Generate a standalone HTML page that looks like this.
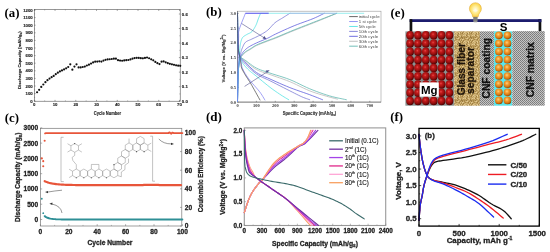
<!DOCTYPE html>
<html><head><meta charset="utf-8"><style>
html,body{margin:0;padding:0;background:#fff;width:550px;height:252px;overflow:hidden;font-family:"Liberation Sans",sans-serif;}
svg{display:block;will-change:transform;}
</style></head><body>
<svg width="550" height="252" viewBox="0 0 550 252">
<defs>
<radialGradient id="rb" cx="0.42" cy="0.38" r="0.62">
<stop offset="0" stop-color="#ea4a4a"/><stop offset="0.25" stop-color="#c41c1c"/><stop offset="0.6" stop-color="#9e1010"/><stop offset="0.85" stop-color="#740808"/><stop offset="1" stop-color="#4a0000"/>
</radialGradient>
<radialGradient id="ob" cx="0.42" cy="0.38" r="0.62">
<stop offset="0" stop-color="#ffd080"/><stop offset="0.35" stop-color="#f4a030"/><stop offset="0.8" stop-color="#d07010"/><stop offset="1" stop-color="#8a4400"/>
</radialGradient>
<radialGradient id="bulb" cx="0.5" cy="0.5" r="0.6">
<stop offset="0" stop-color="#fffcea"/><stop offset="0.4" stop-color="#ffee98"/><stop offset="0.8" stop-color="#fcd44c"/><stop offset="1" stop-color="#eeac28"/>
</radialGradient>
<pattern id="hatch" width="2" height="2" patternUnits="userSpaceOnUse">
<rect width="2" height="2" fill="#c4c4c4"/><rect width="1" height="1" fill="#7a7a7a"/><rect x="1" y="1" width="1" height="1" fill="#848484"/>
</pattern>
<pattern id="sand" width="9" height="9" patternUnits="userSpaceOnUse"><rect width="9" height="9" fill="#c6a768"/><rect x="0" y="0" width="1" height="1" fill="#c0a062"/><rect x="1" y="0" width="1" height="1" fill="#d8bc80"/><rect x="2" y="0" width="1" height="1" fill="#9c7c40"/><rect x="3" y="0" width="1" height="1" fill="#c9aa6c"/><rect x="4" y="0" width="1" height="1" fill="#b89858"/><rect x="5" y="0" width="1" height="1" fill="#b89858"/><rect x="6" y="0" width="1" height="1" fill="#c0a062"/><rect x="7" y="0" width="1" height="1" fill="#c9aa6c"/><rect x="8" y="0" width="1" height="1" fill="#a88848"/><rect x="0" y="1" width="1" height="1" fill="#c9aa6c"/><rect x="1" y="1" width="1" height="1" fill="#b89858"/><rect x="2" y="1" width="1" height="1" fill="#9c7c40"/><rect x="3" y="1" width="1" height="1" fill="#9c7c40"/><rect x="4" y="1" width="1" height="1" fill="#b89858"/><rect x="5" y="1" width="1" height="1" fill="#a88848"/><rect x="6" y="1" width="1" height="1" fill="#b89858"/><rect x="7" y="1" width="1" height="1" fill="#9c7c40"/><rect x="8" y="1" width="1" height="1" fill="#c9aa6c"/><rect x="0" y="2" width="1" height="1" fill="#b89858"/><rect x="1" y="2" width="1" height="1" fill="#a88848"/><rect x="2" y="2" width="1" height="1" fill="#c9aa6c"/><rect x="3" y="2" width="1" height="1" fill="#9c7c40"/><rect x="4" y="2" width="1" height="1" fill="#c9aa6c"/><rect x="5" y="2" width="1" height="1" fill="#a88848"/><rect x="6" y="2" width="1" height="1" fill="#c9aa6c"/><rect x="7" y="2" width="1" height="1" fill="#d8bc80"/><rect x="8" y="2" width="1" height="1" fill="#e2c992"/><rect x="0" y="3" width="1" height="1" fill="#9c7c40"/><rect x="1" y="3" width="1" height="1" fill="#d8bc80"/><rect x="2" y="3" width="1" height="1" fill="#b89858"/><rect x="3" y="3" width="1" height="1" fill="#e2c992"/><rect x="4" y="3" width="1" height="1" fill="#d8bc80"/><rect x="5" y="3" width="1" height="1" fill="#b89858"/><rect x="6" y="3" width="1" height="1" fill="#a88848"/><rect x="7" y="3" width="1" height="1" fill="#c0a062"/><rect x="8" y="3" width="1" height="1" fill="#b89858"/><rect x="0" y="4" width="1" height="1" fill="#b89858"/><rect x="1" y="4" width="1" height="1" fill="#c9aa6c"/><rect x="2" y="4" width="1" height="1" fill="#a88848"/><rect x="3" y="4" width="1" height="1" fill="#d0b478"/><rect x="4" y="4" width="1" height="1" fill="#9c7c40"/><rect x="5" y="4" width="1" height="1" fill="#c0a062"/><rect x="6" y="4" width="1" height="1" fill="#d0b478"/><rect x="7" y="4" width="1" height="1" fill="#d0b478"/><rect x="8" y="4" width="1" height="1" fill="#c0a062"/><rect x="0" y="5" width="1" height="1" fill="#e2c992"/><rect x="1" y="5" width="1" height="1" fill="#a88848"/><rect x="2" y="5" width="1" height="1" fill="#d8bc80"/><rect x="3" y="5" width="1" height="1" fill="#a88848"/><rect x="4" y="5" width="1" height="1" fill="#b89858"/><rect x="5" y="5" width="1" height="1" fill="#e2c992"/><rect x="6" y="5" width="1" height="1" fill="#d0b478"/><rect x="7" y="5" width="1" height="1" fill="#c0a062"/><rect x="8" y="5" width="1" height="1" fill="#d0b478"/><rect x="0" y="6" width="1" height="1" fill="#e2c992"/><rect x="1" y="6" width="1" height="1" fill="#b89858"/><rect x="2" y="6" width="1" height="1" fill="#b89858"/><rect x="3" y="6" width="1" height="1" fill="#9c7c40"/><rect x="4" y="6" width="1" height="1" fill="#d8bc80"/><rect x="5" y="6" width="1" height="1" fill="#c0a062"/><rect x="6" y="6" width="1" height="1" fill="#d8bc80"/><rect x="7" y="6" width="1" height="1" fill="#d0b478"/><rect x="8" y="6" width="1" height="1" fill="#9c7c40"/><rect x="0" y="7" width="1" height="1" fill="#c9aa6c"/><rect x="1" y="7" width="1" height="1" fill="#b89858"/><rect x="2" y="7" width="1" height="1" fill="#c0a062"/><rect x="3" y="7" width="1" height="1" fill="#c0a062"/><rect x="4" y="7" width="1" height="1" fill="#c0a062"/><rect x="5" y="7" width="1" height="1" fill="#d0b478"/><rect x="6" y="7" width="1" height="1" fill="#d0b478"/><rect x="7" y="7" width="1" height="1" fill="#b89858"/><rect x="8" y="7" width="1" height="1" fill="#b89858"/><rect x="0" y="8" width="1" height="1" fill="#e2c992"/><rect x="1" y="8" width="1" height="1" fill="#d0b478"/><rect x="2" y="8" width="1" height="1" fill="#b89858"/><rect x="3" y="8" width="1" height="1" fill="#c9aa6c"/><rect x="4" y="8" width="1" height="1" fill="#e2c992"/><rect x="5" y="8" width="1" height="1" fill="#d0b478"/><rect x="6" y="8" width="1" height="1" fill="#e2c992"/><rect x="7" y="8" width="1" height="1" fill="#9c7c40"/><rect x="8" y="8" width="1" height="1" fill="#c0a062"/></pattern>
</defs>
<rect width="550" height="252" fill="#fff"/>
<text x="4.6" y="17.4" font-size="12.8" text-anchor="start" font-weight="bold" font-family="Liberation Serif" fill="#000">(a)</text>
<rect x="34.3" y="9.6" width="145.9" height="91.6" fill="none" stroke="#444" stroke-width="0.55"/>
<line x1="34.3" y1="101.2" x2="35.6" y2="101.2" stroke="#444" stroke-width="0.5"/>
<text x="32.7" y="102.7" font-size="4.3" text-anchor="end" font-weight="bold" font-family="Liberation Sans" fill="#222" stroke="#222" stroke-width="0.12">0</text>
<line x1="34.3" y1="97.4" x2="35.1" y2="97.4" stroke="#444" stroke-width="0.4"/>
<line x1="34.3" y1="93.6" x2="35.6" y2="93.6" stroke="#444" stroke-width="0.5"/>
<text x="32.7" y="95.1" font-size="4.3" text-anchor="end" font-weight="bold" font-family="Liberation Sans" fill="#222" stroke="#222" stroke-width="0.12">100</text>
<line x1="34.3" y1="89.8" x2="35.1" y2="89.8" stroke="#444" stroke-width="0.4"/>
<line x1="34.3" y1="86" x2="35.6" y2="86" stroke="#444" stroke-width="0.5"/>
<text x="32.7" y="87.5" font-size="4.3" text-anchor="end" font-weight="bold" font-family="Liberation Sans" fill="#222" stroke="#222" stroke-width="0.12">200</text>
<line x1="34.3" y1="82.2" x2="35.1" y2="82.2" stroke="#444" stroke-width="0.4"/>
<line x1="34.3" y1="78.4" x2="35.6" y2="78.4" stroke="#444" stroke-width="0.5"/>
<text x="32.7" y="79.9" font-size="4.3" text-anchor="end" font-weight="bold" font-family="Liberation Sans" fill="#222" stroke="#222" stroke-width="0.12">300</text>
<line x1="34.3" y1="74.6" x2="35.1" y2="74.6" stroke="#444" stroke-width="0.4"/>
<line x1="34.3" y1="70.8" x2="35.6" y2="70.8" stroke="#444" stroke-width="0.5"/>
<text x="32.7" y="72.3" font-size="4.3" text-anchor="end" font-weight="bold" font-family="Liberation Sans" fill="#222" stroke="#222" stroke-width="0.12">400</text>
<line x1="34.3" y1="67" x2="35.1" y2="67" stroke="#444" stroke-width="0.4"/>
<line x1="34.3" y1="63.2" x2="35.6" y2="63.2" stroke="#444" stroke-width="0.5"/>
<text x="32.7" y="64.7" font-size="4.3" text-anchor="end" font-weight="bold" font-family="Liberation Sans" fill="#222" stroke="#222" stroke-width="0.12">500</text>
<line x1="34.3" y1="59.4" x2="35.1" y2="59.4" stroke="#444" stroke-width="0.4"/>
<line x1="34.3" y1="55.6" x2="35.6" y2="55.6" stroke="#444" stroke-width="0.5"/>
<text x="32.7" y="57.1" font-size="4.3" text-anchor="end" font-weight="bold" font-family="Liberation Sans" fill="#222" stroke="#222" stroke-width="0.12">600</text>
<line x1="34.3" y1="51.8" x2="35.1" y2="51.8" stroke="#444" stroke-width="0.4"/>
<line x1="34.3" y1="48" x2="35.6" y2="48" stroke="#444" stroke-width="0.5"/>
<text x="32.7" y="49.5" font-size="4.3" text-anchor="end" font-weight="bold" font-family="Liberation Sans" fill="#222" stroke="#222" stroke-width="0.12">700</text>
<line x1="34.3" y1="44.2" x2="35.1" y2="44.2" stroke="#444" stroke-width="0.4"/>
<line x1="34.3" y1="40.4" x2="35.6" y2="40.4" stroke="#444" stroke-width="0.5"/>
<text x="32.7" y="41.9" font-size="4.3" text-anchor="end" font-weight="bold" font-family="Liberation Sans" fill="#222" stroke="#222" stroke-width="0.12">800</text>
<line x1="34.3" y1="36.6" x2="35.1" y2="36.6" stroke="#444" stroke-width="0.4"/>
<line x1="34.3" y1="32.8" x2="35.6" y2="32.8" stroke="#444" stroke-width="0.5"/>
<text x="32.7" y="34.3" font-size="4.3" text-anchor="end" font-weight="bold" font-family="Liberation Sans" fill="#222" stroke="#222" stroke-width="0.12">900</text>
<line x1="34.3" y1="29" x2="35.1" y2="29" stroke="#444" stroke-width="0.4"/>
<line x1="34.3" y1="25.2" x2="35.6" y2="25.2" stroke="#444" stroke-width="0.5"/>
<text x="32.7" y="26.7" font-size="4.3" text-anchor="end" font-weight="bold" font-family="Liberation Sans" fill="#222" stroke="#222" stroke-width="0.12">1000</text>
<line x1="34.3" y1="21.4" x2="35.1" y2="21.4" stroke="#444" stroke-width="0.4"/>
<line x1="34.3" y1="17.6" x2="35.6" y2="17.6" stroke="#444" stroke-width="0.5"/>
<text x="32.7" y="19.1" font-size="4.3" text-anchor="end" font-weight="bold" font-family="Liberation Sans" fill="#222" stroke="#222" stroke-width="0.12">1100</text>
<line x1="34.3" y1="13.8" x2="35.1" y2="13.8" stroke="#444" stroke-width="0.4"/>
<line x1="34.3" y1="10" x2="35.6" y2="10" stroke="#444" stroke-width="0.5"/>
<text x="32.7" y="11.5" font-size="4.3" text-anchor="end" font-weight="bold" font-family="Liberation Sans" fill="#222" stroke="#222" stroke-width="0.12">1200</text>
<line x1="180.2" y1="101.2" x2="178.9" y2="101.2" stroke="#444" stroke-width="0.5"/>
<text x="181.8" y="102.7" font-size="4.3" text-anchor="start" font-weight="bold" font-family="Liberation Sans" fill="#222" stroke="#222" stroke-width="0.12">0.0</text>
<line x1="180.2" y1="93.93" x2="179.4" y2="93.93" stroke="#444" stroke-width="0.4"/>
<line x1="180.2" y1="86.67" x2="178.9" y2="86.67" stroke="#444" stroke-width="0.5"/>
<text x="181.8" y="88.17" font-size="4.3" text-anchor="start" font-weight="bold" font-family="Liberation Sans" fill="#222" stroke="#222" stroke-width="0.12">0.1</text>
<line x1="180.2" y1="79.4" x2="179.4" y2="79.4" stroke="#444" stroke-width="0.4"/>
<line x1="180.2" y1="72.13" x2="178.9" y2="72.13" stroke="#444" stroke-width="0.5"/>
<text x="181.8" y="73.63" font-size="4.3" text-anchor="start" font-weight="bold" font-family="Liberation Sans" fill="#222" stroke="#222" stroke-width="0.12">0.2</text>
<line x1="180.2" y1="64.87" x2="179.4" y2="64.87" stroke="#444" stroke-width="0.4"/>
<line x1="180.2" y1="57.6" x2="178.9" y2="57.6" stroke="#444" stroke-width="0.5"/>
<text x="181.8" y="59.1" font-size="4.3" text-anchor="start" font-weight="bold" font-family="Liberation Sans" fill="#222" stroke="#222" stroke-width="0.12">0.3</text>
<line x1="180.2" y1="50.33" x2="179.4" y2="50.33" stroke="#444" stroke-width="0.4"/>
<line x1="180.2" y1="43.07" x2="178.9" y2="43.07" stroke="#444" stroke-width="0.5"/>
<text x="181.8" y="44.57" font-size="4.3" text-anchor="start" font-weight="bold" font-family="Liberation Sans" fill="#222" stroke="#222" stroke-width="0.12">0.4</text>
<line x1="180.2" y1="35.8" x2="179.4" y2="35.8" stroke="#444" stroke-width="0.4"/>
<line x1="180.2" y1="28.53" x2="178.9" y2="28.53" stroke="#444" stroke-width="0.5"/>
<text x="181.8" y="30.03" font-size="4.3" text-anchor="start" font-weight="bold" font-family="Liberation Sans" fill="#222" stroke="#222" stroke-width="0.12">0.5</text>
<line x1="180.2" y1="21.27" x2="179.4" y2="21.27" stroke="#444" stroke-width="0.4"/>
<line x1="180.2" y1="14" x2="178.9" y2="14" stroke="#444" stroke-width="0.5"/>
<text x="181.8" y="15.5" font-size="4.3" text-anchor="start" font-weight="bold" font-family="Liberation Sans" fill="#222" stroke="#222" stroke-width="0.12">0.6</text>
<line x1="34.3" y1="101.2" x2="34.3" y2="99.9" stroke="#444" stroke-width="0.5"/>
<line x1="34.3" y1="9.6" x2="34.3" y2="10.9" stroke="#444" stroke-width="0.5"/>
<text x="34.3" y="105.8" font-size="4.3" text-anchor="middle" font-weight="bold" font-family="Liberation Sans" fill="#222" stroke="#222" stroke-width="0.12">0</text>
<line x1="44.67" y1="101.2" x2="44.67" y2="100.4" stroke="#444" stroke-width="0.4"/>
<line x1="44.67" y1="9.6" x2="44.67" y2="10.4" stroke="#444" stroke-width="0.4"/>
<line x1="55.04" y1="101.2" x2="55.04" y2="99.9" stroke="#444" stroke-width="0.5"/>
<line x1="55.04" y1="9.6" x2="55.04" y2="10.9" stroke="#444" stroke-width="0.5"/>
<text x="55.04" y="105.8" font-size="4.3" text-anchor="middle" font-weight="bold" font-family="Liberation Sans" fill="#222" stroke="#222" stroke-width="0.12">10</text>
<line x1="65.41" y1="101.2" x2="65.41" y2="100.4" stroke="#444" stroke-width="0.4"/>
<line x1="65.41" y1="9.6" x2="65.41" y2="10.4" stroke="#444" stroke-width="0.4"/>
<line x1="75.79" y1="101.2" x2="75.79" y2="99.9" stroke="#444" stroke-width="0.5"/>
<line x1="75.79" y1="9.6" x2="75.79" y2="10.9" stroke="#444" stroke-width="0.5"/>
<text x="75.79" y="105.8" font-size="4.3" text-anchor="middle" font-weight="bold" font-family="Liberation Sans" fill="#222" stroke="#222" stroke-width="0.12">20</text>
<line x1="86.16" y1="101.2" x2="86.16" y2="100.4" stroke="#444" stroke-width="0.4"/>
<line x1="86.16" y1="9.6" x2="86.16" y2="10.4" stroke="#444" stroke-width="0.4"/>
<line x1="96.53" y1="101.2" x2="96.53" y2="99.9" stroke="#444" stroke-width="0.5"/>
<line x1="96.53" y1="9.6" x2="96.53" y2="10.9" stroke="#444" stroke-width="0.5"/>
<text x="96.53" y="105.8" font-size="4.3" text-anchor="middle" font-weight="bold" font-family="Liberation Sans" fill="#222" stroke="#222" stroke-width="0.12">30</text>
<line x1="106.9" y1="101.2" x2="106.9" y2="100.4" stroke="#444" stroke-width="0.4"/>
<line x1="106.9" y1="9.6" x2="106.9" y2="10.4" stroke="#444" stroke-width="0.4"/>
<line x1="117.27" y1="101.2" x2="117.27" y2="99.9" stroke="#444" stroke-width="0.5"/>
<line x1="117.27" y1="9.6" x2="117.27" y2="10.9" stroke="#444" stroke-width="0.5"/>
<text x="117.27" y="105.8" font-size="4.3" text-anchor="middle" font-weight="bold" font-family="Liberation Sans" fill="#222" stroke="#222" stroke-width="0.12">40</text>
<line x1="127.64" y1="101.2" x2="127.64" y2="100.4" stroke="#444" stroke-width="0.4"/>
<line x1="127.64" y1="9.6" x2="127.64" y2="10.4" stroke="#444" stroke-width="0.4"/>
<line x1="138.01" y1="101.2" x2="138.01" y2="99.9" stroke="#444" stroke-width="0.5"/>
<line x1="138.01" y1="9.6" x2="138.01" y2="10.9" stroke="#444" stroke-width="0.5"/>
<text x="138.01" y="105.8" font-size="4.3" text-anchor="middle" font-weight="bold" font-family="Liberation Sans" fill="#222" stroke="#222" stroke-width="0.12">50</text>
<line x1="148.39" y1="101.2" x2="148.39" y2="100.4" stroke="#444" stroke-width="0.4"/>
<line x1="148.39" y1="9.6" x2="148.39" y2="10.4" stroke="#444" stroke-width="0.4"/>
<line x1="158.76" y1="101.2" x2="158.76" y2="99.9" stroke="#444" stroke-width="0.5"/>
<line x1="158.76" y1="9.6" x2="158.76" y2="10.9" stroke="#444" stroke-width="0.5"/>
<text x="158.76" y="105.8" font-size="4.3" text-anchor="middle" font-weight="bold" font-family="Liberation Sans" fill="#222" stroke="#222" stroke-width="0.12">60</text>
<line x1="169.13" y1="101.2" x2="169.13" y2="100.4" stroke="#444" stroke-width="0.4"/>
<line x1="169.13" y1="9.6" x2="169.13" y2="10.4" stroke="#444" stroke-width="0.4"/>
<line x1="179.5" y1="101.2" x2="179.5" y2="99.9" stroke="#444" stroke-width="0.5"/>
<line x1="179.5" y1="9.6" x2="179.5" y2="10.9" stroke="#444" stroke-width="0.5"/>
<text x="179.5" y="105.8" font-size="4.3" text-anchor="middle" font-weight="bold" font-family="Liberation Sans" fill="#222" stroke="#222" stroke-width="0.12">70</text>
<text x="107.5" y="114.9" font-size="4.9" text-anchor="middle" font-weight="bold" font-family="Liberation Sans" fill="#222" stroke="#222" stroke-width="0.12" textLength="27.4" lengthAdjust="spacingAndGlyphs">Cycle Number</text>
<text transform="translate(20.5,60.2) rotate(-90)" font-size="4.2" text-anchor="middle" font-weight="bold" font-family="Liberation Sans" fill="#222" stroke="#222" stroke-width="0.15">Discharge Capacity (mAh/g<tspan font-size="3.0" dy="1">s</tspan><tspan dy="-1">)</tspan></text>
<circle cx="37.1" cy="92.23" r="1.1" fill="#111"/>
<circle cx="39.17" cy="89.8" r="1.1" fill="#111"/>
<circle cx="41.25" cy="86.91" r="1.1" fill="#111"/>
<circle cx="43.32" cy="84.48" r="1.1" fill="#111"/>
<circle cx="45.4" cy="82.2" r="1.1" fill="#111"/>
<circle cx="47.47" cy="80.22" r="1.1" fill="#111"/>
<circle cx="49.55" cy="78.55" r="1.1" fill="#111"/>
<circle cx="51.62" cy="77.18" r="1.1" fill="#111"/>
<circle cx="53.69" cy="75.89" r="1.1" fill="#111"/>
<circle cx="55.77" cy="74.22" r="1.1" fill="#111"/>
<circle cx="57.84" cy="72.7" r="1.1" fill="#111"/>
<circle cx="59.92" cy="71.41" r="1.1" fill="#111"/>
<circle cx="61.99" cy="70.42" r="1.1" fill="#111"/>
<circle cx="64.07" cy="69.43" r="1.1" fill="#111"/>
<circle cx="66.14" cy="68.37" r="1.1" fill="#111"/>
<circle cx="68.21" cy="67" r="1.1" fill="#111"/>
<circle cx="70.29" cy="64.34" r="1.1" fill="#111"/>
<circle cx="72.36" cy="69.66" r="1.1" fill="#111"/>
<circle cx="74.44" cy="66.62" r="1.1" fill="#111"/>
<circle cx="76.51" cy="64.34" r="1.1" fill="#111"/>
<circle cx="78.59" cy="67.38" r="1.1" fill="#111"/>
<circle cx="80.66" cy="67.38" r="1.1" fill="#111"/>
<circle cx="82.73" cy="67" r="1.1" fill="#111"/>
<circle cx="84.81" cy="66.62" r="1.1" fill="#111"/>
<circle cx="86.88" cy="65.48" r="1.1" fill="#111"/>
<circle cx="88.96" cy="64.72" r="1.1" fill="#111"/>
<circle cx="91.03" cy="63.58" r="1.1" fill="#111"/>
<circle cx="93.11" cy="62.44" r="1.1" fill="#111"/>
<circle cx="95.18" cy="61.68" r="1.1" fill="#111"/>
<circle cx="97.25" cy="61.53" r="1.1" fill="#111"/>
<circle cx="99.33" cy="61.3" r="1.1" fill="#111"/>
<circle cx="101.4" cy="61.53" r="1.1" fill="#111"/>
<circle cx="103.48" cy="60.54" r="1.1" fill="#111"/>
<circle cx="105.55" cy="59.78" r="1.1" fill="#111"/>
<circle cx="107.63" cy="59.4" r="1.1" fill="#111"/>
<circle cx="109.7" cy="59.25" r="1.1" fill="#111"/>
<circle cx="111.77" cy="59.02" r="1.1" fill="#111"/>
<circle cx="113.85" cy="58.64" r="1.1" fill="#111"/>
<circle cx="115.92" cy="58.64" r="1.1" fill="#111"/>
<circle cx="118" cy="60.16" r="1.1" fill="#111"/>
<circle cx="120.07" cy="60.62" r="1.1" fill="#111"/>
<circle cx="122.15" cy="60.77" r="1.1" fill="#111"/>
<circle cx="124.22" cy="60.46" r="1.1" fill="#111"/>
<circle cx="126.29" cy="60.16" r="1.1" fill="#111"/>
<circle cx="128.37" cy="60.01" r="1.1" fill="#111"/>
<circle cx="130.44" cy="59.4" r="1.1" fill="#111"/>
<circle cx="132.52" cy="58.64" r="1.1" fill="#111"/>
<circle cx="134.59" cy="58.11" r="1.1" fill="#111"/>
<circle cx="136.67" cy="57.8" r="1.1" fill="#111"/>
<circle cx="138.74" cy="57.88" r="1.1" fill="#111"/>
<circle cx="140.81" cy="58.18" r="1.1" fill="#111"/>
<circle cx="142.89" cy="58.34" r="1.1" fill="#111"/>
<circle cx="144.96" cy="57.88" r="1.1" fill="#111"/>
<circle cx="147.04" cy="57.5" r="1.1" fill="#111"/>
<circle cx="149.11" cy="58.26" r="1.1" fill="#111"/>
<circle cx="151.19" cy="59.32" r="1.1" fill="#111"/>
<circle cx="153.26" cy="60.31" r="1.1" fill="#111"/>
<circle cx="155.33" cy="61.91" r="1.1" fill="#111"/>
<circle cx="157.41" cy="63.2" r="1.1" fill="#111"/>
<circle cx="159.48" cy="64.11" r="1.1" fill="#111"/>
<circle cx="161.56" cy="61.68" r="1.1" fill="#111"/>
<circle cx="163.63" cy="61.38" r="1.1" fill="#111"/>
<circle cx="165.71" cy="62.29" r="1.1" fill="#111"/>
<circle cx="167.78" cy="63.2" r="1.1" fill="#111"/>
<circle cx="169.85" cy="63.81" r="1.1" fill="#111"/>
<circle cx="171.93" cy="64.34" r="1.1" fill="#111"/>
<circle cx="174" cy="64.87" r="1.1" fill="#111"/>
<circle cx="176.08" cy="65.33" r="1.1" fill="#111"/>
<circle cx="178.15" cy="65.63" r="1.1" fill="#111"/>
<circle cx="180.23" cy="65.78" r="1.1" fill="#111"/>
<text x="206" y="15.9" font-size="12.8" text-anchor="start" font-weight="bold" font-family="Liberation Serif" fill="#000">(b)</text>
<rect x="237.5" y="11.2" width="143.5" height="90.9" fill="none" stroke="#999" stroke-width="0.6"/>
<line x1="237.5" y1="11.2" x2="237.5" y2="102.1" stroke="#555" stroke-width="0.6"/>
<line x1="237.5" y1="102.1" x2="381" y2="102.1" stroke="#555" stroke-width="0.6"/>
<line x1="237.5" y1="102.1" x2="238.8" y2="102.1" stroke="#555" stroke-width="0.5"/>
<text x="235.9" y="103.6" font-size="4.4" text-anchor="end" font-weight="bold" font-family="Liberation Serif" fill="#333">0.0</text>
<line x1="237.5" y1="87.3" x2="238.8" y2="87.3" stroke="#555" stroke-width="0.5"/>
<text x="235.9" y="88.8" font-size="4.4" text-anchor="end" font-weight="bold" font-family="Liberation Serif" fill="#333">0.5</text>
<line x1="237.5" y1="72.5" x2="238.8" y2="72.5" stroke="#555" stroke-width="0.5"/>
<text x="235.9" y="74" font-size="4.4" text-anchor="end" font-weight="bold" font-family="Liberation Serif" fill="#333">1.0</text>
<line x1="237.5" y1="57.7" x2="238.8" y2="57.7" stroke="#555" stroke-width="0.5"/>
<text x="235.9" y="59.2" font-size="4.4" text-anchor="end" font-weight="bold" font-family="Liberation Serif" fill="#333">1.5</text>
<line x1="237.5" y1="42.9" x2="238.8" y2="42.9" stroke="#555" stroke-width="0.5"/>
<text x="235.9" y="44.4" font-size="4.4" text-anchor="end" font-weight="bold" font-family="Liberation Serif" fill="#333">2.0</text>
<line x1="237.5" y1="28.1" x2="238.8" y2="28.1" stroke="#555" stroke-width="0.5"/>
<text x="235.9" y="29.6" font-size="4.4" text-anchor="end" font-weight="bold" font-family="Liberation Serif" fill="#333">2.5</text>
<line x1="237.5" y1="13.3" x2="238.8" y2="13.3" stroke="#555" stroke-width="0.5"/>
<text x="235.9" y="14.8" font-size="4.4" text-anchor="end" font-weight="bold" font-family="Liberation Serif" fill="#333">3.0</text>
<line x1="237.5" y1="102.1" x2="237.5" y2="100.8" stroke="#555" stroke-width="0.5"/>
<text x="237.5" y="107.1" font-size="4.4" text-anchor="middle" font-weight="bold" font-family="Liberation Serif" fill="#333">0</text>
<line x1="256.4" y1="102.1" x2="256.4" y2="100.8" stroke="#555" stroke-width="0.5"/>
<text x="256.4" y="107.1" font-size="4.4" text-anchor="middle" font-weight="bold" font-family="Liberation Serif" fill="#333">100</text>
<line x1="275.3" y1="102.1" x2="275.3" y2="100.8" stroke="#555" stroke-width="0.5"/>
<text x="275.3" y="107.1" font-size="4.4" text-anchor="middle" font-weight="bold" font-family="Liberation Serif" fill="#333">200</text>
<line x1="294.2" y1="102.1" x2="294.2" y2="100.8" stroke="#555" stroke-width="0.5"/>
<text x="294.2" y="107.1" font-size="4.4" text-anchor="middle" font-weight="bold" font-family="Liberation Serif" fill="#333">300</text>
<line x1="313.1" y1="102.1" x2="313.1" y2="100.8" stroke="#555" stroke-width="0.5"/>
<text x="313.1" y="107.1" font-size="4.4" text-anchor="middle" font-weight="bold" font-family="Liberation Serif" fill="#333">400</text>
<line x1="332" y1="102.1" x2="332" y2="100.8" stroke="#555" stroke-width="0.5"/>
<text x="332" y="107.1" font-size="4.4" text-anchor="middle" font-weight="bold" font-family="Liberation Serif" fill="#333">500</text>
<line x1="350.9" y1="102.1" x2="350.9" y2="100.8" stroke="#555" stroke-width="0.5"/>
<text x="350.9" y="107.1" font-size="4.4" text-anchor="middle" font-weight="bold" font-family="Liberation Serif" fill="#333">600</text>
<line x1="369.8" y1="102.1" x2="369.8" y2="100.8" stroke="#555" stroke-width="0.5"/>
<text x="369.8" y="107.1" font-size="4.4" text-anchor="middle" font-weight="bold" font-family="Liberation Serif" fill="#333">700</text>
<text x="309.5" y="114.7" font-size="4.7" text-anchor="middle" font-weight="bold" font-family="Liberation Sans" fill="#333" stroke="#222" stroke-width="0.12" textLength="53.5" lengthAdjust="spacingAndGlyphs">Specific Capacity (mAh/g<tspan font-size="3.4" dy="1.1">s</tspan><tspan dy="-1.1">)</tspan></text>
<text transform="translate(224.9,58.5) rotate(-90)" font-size="4.35" text-anchor="middle" font-weight="bold" font-family="Liberation Sans" fill="#333" stroke="#333" stroke-width="0.15">Voltage (V vs. Mg/Mg<tspan font-size="2.9" dy="-1.5">2+</tspan><tspan dy="1.5">)</tspan></text>
<polyline points="237.5,13.3 237.52,14.91 237.55,17.14 237.58,19.77 237.61,22.62 237.65,25.46 237.69,28.1 237.73,30.65 237.77,33.31 237.81,35.96 237.86,38.51 237.91,40.86 237.97,42.9 238.04,44.6 238.11,46.05 238.18,47.28 238.26,48.37 238.35,49.36 238.44,50.3 238.54,51.15 238.63,51.86 238.73,52.46 238.85,53.02 239.01,53.56 239.2,54.15 239.42,54.76 239.66,55.35 239.92,55.94 240.24,56.53 240.62,57.11 241.09,57.7 241.6,58.24 242.11,58.71 242.7,59.18 243.41,59.72 244.3,60.39 245.44,61.25 246.85,62.4 248.5,63.78 250.34,65.3 252.31,66.84 254.34,68.29 256.4,69.54 258.44,70.54 260.51,71.38 262.65,72.13 264.91,72.86 267.35,73.65 270.01,74.57 272.95,75.61 276.16,76.71 279.54,77.86 283.01,79.08 286.47,80.35 289.85,81.68 293.2,83.13 296.59,84.72 299.98,86.38 303.32,88 306.58,89.52 309.7,90.85 312.72,91.99 315.68,93 318.56,93.9 321.31,94.72 323.91,95.47 326.33,96.18 328.63,96.84 330.87,97.45 332.94,97.99 334.79,98.46 336.33,98.85 337.48,99.14" fill="none" stroke="#b0b0b0" stroke-width="0.7" stroke-linejoin="round" stroke-linecap="round"/>
<polyline points="237.5,101.51 237.54,99.58 237.6,96.86 237.67,93.66 237.74,90.3 237.81,87.09 237.88,84.34 237.94,82.01 238,79.83 238.06,77.81 238.12,75.92 238.18,74.15 238.26,72.5 238.33,71 238.4,69.67 238.48,68.47 238.57,67.34 238.68,66.23 238.82,65.1 238.99,63.92 239.18,62.73 239.39,61.57 239.62,60.46 239.87,59.46 240.15,58.59 240.44,57.89 240.74,57.35 241.07,56.9 241.42,56.51 241.8,56.1 242.22,55.63 242.68,55.1 243.15,54.55 243.65,54 244.2,53.45 244.79,52.9 245.44,52.37 246.14,51.87 246.9,51.4 247.71,50.93 248.55,50.45 249.44,49.95 250.35,49.41 251.26,48.83 252.15,48.22 253.08,47.58 254.1,46.92 255.25,46.25 256.59,45.56 258.2,44.84 260.06,44.07 262.06,43.29 264.08,42.52 266.01,41.79 267.74,41.12 269.13,40.6 270.23,40.2 271.25,39.85 272.37,39.45 273.78,38.91 275.68,38.16 278.1,37.17 280.91,35.99 284.02,34.69 287.33,33.3 290.75,31.87 294.2,30.47 297.77,29.05 301.56,27.57 305.46,26.06 309.38,24.55 313.22,23.05 316.88,21.59 320.58,20.08 324.44,18.47 328.22,16.89 331.69,15.43 334.6,14.19 336.73,13.3" fill="none" stroke="#b0b0b0" stroke-width="0.7" stroke-linejoin="round" stroke-linecap="round"/>
<polyline points="237.5,13.3 237.52,14.91 237.55,17.14 237.58,19.77 237.61,22.62 237.65,25.46 237.69,28.1 237.73,30.65 237.77,33.31 237.81,35.96 237.86,38.51 237.91,40.86 237.97,42.9 238.04,44.6 238.11,46.05 238.18,47.28 238.26,48.37 238.35,49.36 238.44,50.3 238.54,51.15 238.63,51.87 238.73,52.48 238.85,53.04 239.01,53.58 239.2,54.15 239.42,54.72 239.64,55.28 239.9,55.81 240.21,56.34 240.6,56.87 241.09,57.4 241.65,57.9 242.24,58.34 242.91,58.77 243.7,59.27 244.66,59.88 245.82,60.66 247.21,61.68 248.8,62.91 250.55,64.25 252.43,65.62 254.39,66.92 256.4,68.06 258.42,69.02 260.48,69.86 262.63,70.63 264.9,71.39 267.34,72.2 270.01,73.09 272.95,74.06 276.16,75.05 279.54,76.09 283.01,77.18 286.47,78.35 289.85,79.6 293.16,81 296.47,82.54 299.78,84.16 303.08,85.78 306.39,87.34 309.7,88.78 313.04,90.12 316.43,91.42 319.81,92.66 323.15,93.83 326.41,94.91 329.54,95.88 332.72,96.76 336,97.55 339.19,98.25 342.12,98.85 344.57,99.35 346.36,99.73" fill="none" stroke="#4fb0a8" stroke-width="0.7" stroke-linejoin="round" stroke-linecap="round"/>
<polyline points="237.5,101.51 237.54,99.58 237.6,96.86 237.67,93.66 237.74,90.3 237.81,87.09 237.88,84.34 237.94,82.01 238,79.83 238.06,77.81 238.12,75.92 238.18,74.15 238.26,72.5 238.33,71 238.4,69.68 238.48,68.49 238.57,67.36 238.68,66.25 238.82,65.1 238.99,63.89 239.18,62.66 239.39,61.44 239.62,60.28 239.87,59.21 240.15,58.29 240.44,57.54 240.74,56.94 241.07,56.44 241.42,55.99 241.8,55.54 242.22,55.04 242.68,54.49 243.15,53.94 243.65,53.39 244.2,52.84 244.79,52.31 245.44,51.78 246.14,51.28 246.9,50.8 247.71,50.34 248.55,49.86 249.44,49.36 250.35,48.82 251.26,48.24 252.15,47.63 253.08,46.99 254.1,46.33 255.25,45.66 256.59,44.97 258.2,44.25 260.06,43.48 262.06,42.7 264.08,41.92 266.01,41.19 267.74,40.53 269.13,40.01 270.23,39.61 271.25,39.26 272.37,38.85 273.78,38.32 275.68,37.57 278.1,36.58 280.91,35.4 284.02,34.09 287.33,32.7 290.75,31.28 294.2,29.88 297.77,28.45 301.56,26.96 305.46,25.44 309.38,23.91 313.22,22.42 316.88,21 320.58,19.56 324.44,18.06 328.22,16.59 331.69,15.25 334.6,14.12 336.73,13.3" fill="none" stroke="#4fb0a8" stroke-width="0.7" stroke-linejoin="round" stroke-linecap="round"/>
<polyline points="237.5,13.3 237.52,14.91 237.55,17.14 237.58,19.77 237.61,22.62 237.65,25.46 237.69,28.1 237.73,30.65 237.77,33.31 237.81,35.96 237.86,38.51 237.91,40.86 237.97,42.9 238.04,44.6 238.11,46.05 238.18,47.28 238.26,48.37 238.35,49.36 238.44,50.3 238.54,51.14 238.64,51.83 238.75,52.43 238.87,52.97 239.02,53.53 239.2,54.15 239.41,54.83 239.62,55.53 239.86,56.24 240.15,56.94 240.49,57.63 240.9,58.29 241.32,58.84 241.71,59.26 242.17,59.66 242.76,60.16 243.57,60.85 244.68,61.84 246.15,63.26 247.93,65.02 249.93,66.99 252.06,68.99 254.25,70.88 256.4,72.5 258.49,73.8 260.56,74.9 262.7,75.89 264.94,76.84 267.36,77.85 270.01,79.01 272.95,80.34 276.16,81.77 279.54,83.27 283.01,84.77 286.47,86.23 289.85,87.6 293.24,88.89 296.73,90.15 300.21,91.37 303.6,92.54 306.8,93.65 309.7,94.7 312.39,95.72 314.98,96.72 317.36,97.66 319.48,98.5 321.23,99.21 322.55,99.73" fill="none" stroke="#4a4ad8" stroke-width="0.7" stroke-linejoin="round" stroke-linecap="round"/>
<polyline points="237.5,101.51 237.54,99.58 237.6,96.86 237.67,93.66 237.74,90.3 237.81,87.09 237.88,84.34 237.94,82.01 238,79.83 238.06,77.81 238.12,75.92 238.18,74.15 238.26,72.5 238.33,71 238.41,69.68 238.49,68.49 238.59,67.36 238.69,66.25 238.82,65.1 238.97,63.9 239.14,62.68 239.32,61.47 239.52,60.32 239.73,59.25 239.96,58.29 240.2,57.48 240.45,56.78 240.72,56.16 241.01,55.6 241.32,55.03 241.66,54.44 242,53.84 242.34,53.25 242.71,52.67 243.11,52.09 243.58,51.5 244.12,50.89 244.71,50.27 245.35,49.64 246.04,49 246.81,48.36 247.67,47.71 248.65,47.04 249.74,46.38 250.93,45.71 252.21,45.03 253.58,44.34 255.04,43.63 256.59,42.9 258.3,42.14 260.19,41.34 262.16,40.53 264.14,39.72 266.03,38.93 267.74,38.16 269.13,37.49 270.23,36.89 271.25,36.31 272.37,35.69 273.78,34.94 275.68,34.02 278.15,32.86 281.05,31.52 284.25,30.06 287.61,28.56 290.97,27.09 294.2,25.73 297.42,24.46 300.76,23.21 304.11,21.99 307.36,20.82 310.39,19.7 313.1,18.63 315.54,17.58 317.8,16.52 319.86,15.52 321.65,14.62 323.13,13.86 324.25,13.3" fill="none" stroke="#4a4ad8" stroke-width="0.7" stroke-linejoin="round" stroke-linecap="round"/>
<polyline points="237.5,13.3 237.52,14.91 237.55,17.14 237.58,19.77 237.61,22.62 237.65,25.46 237.69,28.1 237.73,30.65 237.77,33.31 237.81,35.96 237.86,38.51 237.91,40.86 237.97,42.9 238.04,44.6 238.11,46.05 238.18,47.28 238.26,48.37 238.35,49.36 238.44,50.3 238.54,51.14 238.64,51.82 238.75,52.41 238.87,52.95 239.02,53.51 239.2,54.15 239.41,54.86 239.64,55.6 239.9,56.35 240.19,57.11 240.52,57.86 240.9,58.59 241.25,59.21 241.53,59.73 241.85,60.23 242.32,60.84 243.04,61.63 244.12,62.73 245.62,64.25 247.49,66.12 249.61,68.19 251.87,70.3 254.17,72.28 256.4,73.98 258.52,75.33 260.61,76.46 262.73,77.46 264.96,78.44 267.36,79.52 270.01,80.79 273.05,82.32 276.45,84.05 280.04,85.88 283.6,87.68 286.93,89.38 289.85,90.85 292.34,92.11 294.56,93.24 296.55,94.26 298.38,95.17 300.1,96 301.76,96.77 303.4,97.47 304.99,98.09 306.47,98.62 307.79,99.07 308.88,99.44 309.7,99.73" fill="none" stroke="#6a6ad0" stroke-width="0.7" stroke-linejoin="round" stroke-linecap="round"/>
<polyline points="237.5,101.51 237.54,99.58 237.6,96.86 237.67,93.66 237.74,90.3 237.81,87.09 237.88,84.34 237.94,82.01 238,79.83 238.06,77.81 238.12,75.92 238.18,74.15 238.26,72.5 238.34,71.01 238.42,69.7 238.5,68.52 238.6,67.4 238.7,66.28 238.82,65.1 238.96,63.84 239.1,62.56 239.26,61.27 239.43,60.01 239.6,58.81 239.77,57.7 239.94,56.68 240.12,55.73 240.31,54.83 240.5,53.98 240.7,53.17 240.9,52.37 241.09,51.63 241.26,50.97 241.43,50.34 241.64,49.7 241.89,49.01 242.22,48.23 242.61,47.31 243.04,46.29 243.51,45.21 244.06,44.15 244.69,43.16 245.44,42.31 246.31,41.62 247.29,41.05 248.36,40.55 249.49,40.08 250.67,39.6 251.86,39.05 253.1,38.46 254.4,37.86 255.74,37.24 257.1,36.6 258.46,35.92 259.8,35.2 261.13,34.46 262.48,33.7 263.82,32.91 265.15,32.07 266.46,31.16 267.74,30.17 268.97,29.05 270.16,27.79 271.33,26.47 272.5,25.15 273.69,23.9 274.92,22.77 276.21,21.79 277.55,20.9 278.9,20.07 280.26,19.29 281.58,18.52 282.86,17.74 284.16,16.91 285.52,16.05 286.85,15.21 288.07,14.43 289.1,13.78 289.85,13.3" fill="none" stroke="#6a6ad0" stroke-width="0.7" stroke-linejoin="round" stroke-linecap="round"/>
<polyline points="237.5,13.3 237.52,14.91 237.55,17.14 237.58,19.77 237.61,22.62 237.65,25.46 237.69,28.1 237.73,30.65 237.77,33.31 237.81,35.96 237.86,38.51 237.91,40.86 237.97,42.9 238.04,44.6 238.11,46.05 238.18,47.28 238.26,48.37 238.35,49.36 238.44,50.3 238.55,51.14 238.66,51.83 238.77,52.43 238.9,52.97 239.04,53.53 239.2,54.15 239.38,54.81 239.56,55.46 239.76,56.13 239.98,56.81 240.23,57.53 240.52,58.29 240.83,59.1 241.13,59.94 241.47,60.81 241.87,61.71 242.36,62.65 242.98,63.62 243.76,64.65 244.67,65.76 245.67,66.89 246.73,68.03 247.8,69.12 248.84,70.13 249.76,70.97 250.57,71.66 251.39,72.3 252.34,73.02 253.53,73.93 255.08,75.16 257.11,76.83 259.56,78.85 262.25,81.07 265,83.32 267.65,85.45 270.01,87.3 272.1,88.87 274.07,90.3 275.94,91.61 277.7,92.81 279.37,93.94 280.97,95 282.54,96.01 284.08,96.97 285.53,97.84 286.83,98.61 287.91,99.25 288.72,99.73" fill="none" stroke="#3fe0e0" stroke-width="0.7" stroke-linejoin="round" stroke-linecap="round"/>
<polyline points="237.5,101.51 237.54,99.58 237.6,96.86 237.67,93.66 237.74,90.3 237.81,87.09 237.88,84.34 237.94,82.01 238,79.83 238.06,77.81 238.12,75.92 238.18,74.15 238.26,72.5 238.34,71.03 238.43,69.76 238.53,68.61 238.63,67.51 238.73,66.37 238.82,65.1 238.92,63.71 239.01,62.25 239.11,60.75 239.2,59.23 239.3,57.72 239.39,56.22 239.48,54.7 239.56,53.14 239.65,51.58 239.74,50.06 239.84,48.63 239.96,47.34 240.08,46.2 240.21,45.18 240.35,44.25 240.5,43.38 240.69,42.55 240.9,41.72 241.13,40.89 241.37,40.09 241.63,39.33 241.94,38.6 242.32,37.92 242.79,37.28 243.37,36.69 244.04,36.17 244.79,35.68 245.57,35.23 246.36,34.78 247.14,34.32 247.91,33.9 248.71,33.54 249.53,33.19 250.33,32.79 251.12,32.3 251.86,31.65 252.59,30.82 253.3,29.85 253.99,28.78 254.65,27.66 255.27,26.53 255.83,25.44 256.33,24.36 256.77,23.25 257.17,22.14 257.54,21.04 257.91,19.96 258.29,18.92 258.71,17.87 259.14,16.78 259.58,15.7 259.98,14.73 260.31,13.9 260.56,13.3" fill="none" stroke="#3fe0e0" stroke-width="0.7" stroke-linejoin="round" stroke-linecap="round"/>
<polyline points="237.5,13.3 237.52,14.91 237.55,17.14 237.58,19.77 237.61,22.62 237.65,25.46 237.69,28.1 237.73,30.65 237.77,33.31 237.81,35.96 237.86,38.51 237.91,40.86 237.97,42.9 238.04,44.6 238.11,46.05 238.18,47.28 238.26,48.37 238.35,49.36 238.44,50.3 238.55,51.14 238.67,51.83 238.79,52.43 238.92,52.97 239.06,53.53 239.2,54.15 239.35,54.82 239.5,55.5 239.65,56.18 239.81,56.88 239.98,57.58 240.15,58.29 240.32,59 240.5,59.7 240.69,60.4 240.88,61.13 241.08,61.9 241.28,62.73 241.43,63.58 241.53,64.43 241.62,65.32 241.79,66.29 242.1,67.39 242.6,68.65 243.31,70.09 244.15,71.69 245.13,73.41 246.24,75.22 247.48,77.1 248.84,79.01 250.44,81.05 252.3,83.24 254.29,85.51 256.26,87.74 258.08,89.85 259.61,91.74 260.87,93.47 261.98,95.14 262.93,96.68 263.74,98.04 264.39,99.18 264.9,100.03" fill="none" stroke="#7a7af0" stroke-width="0.7" stroke-linejoin="round" stroke-linecap="round"/>
<polyline points="237.5,101.51 237.54,99 237.6,95.54 237.67,91.44 237.74,87.01 237.81,82.57 237.88,78.42 237.94,74.44 238,70.35 238.07,66.25 238.13,62.22 238.19,58.35 238.26,54.74 238.32,51.32 238.38,48 238.43,44.84 238.49,41.91 238.56,39.27 238.63,36.98 238.65,35.25 238.6,34.07 238.55,33.19 238.59,32.32 238.78,31.21 239.2,29.58 239.98,27.19 241.09,24.21 242.35,20.98 243.61,17.85 244.69,15.17 245.44,13.3" fill="none" stroke="#7a7af0" stroke-width="0.7" stroke-linejoin="round" stroke-linecap="round"/>
<polyline points="237.5,13.3 237.52,14.91 237.55,17.14 237.58,19.77 237.61,22.62 237.65,25.46 237.69,28.1 237.73,30.65 237.77,33.31 237.81,35.96 237.86,38.51 237.91,40.86 237.97,42.9 238.04,44.6 238.11,46.05 238.18,47.28 238.26,48.37 238.35,49.36 238.44,50.3 238.55,51.13 238.67,51.8 238.79,52.37 238.92,52.91 239.06,53.48 239.2,54.15 239.35,54.92 239.51,55.76 239.67,56.63 239.84,57.5 240,58.36 240.15,59.18 240.28,59.95 240.41,60.7 240.54,61.44 240.66,62.16 240.78,62.89 240.9,63.62 241,64.34 241.06,65.02 241.11,65.71 241.21,66.43 241.38,67.2 241.66,68.06 242.05,69 242.53,70.01 243.08,71.08 243.69,72.19 244.35,73.36 245.06,74.57 245.84,75.85 246.71,77.21 247.64,78.62 248.57,80.05 249.49,81.48 250.35,82.86 251.15,84.2 251.9,85.5 252.63,86.8 253.36,88.11 254.11,89.45 254.89,90.85 255.76,92.42 256.74,94.16 257.72,95.94 258.65,97.61 259.43,99.02 259.99,100.03" fill="none" stroke="#404040" stroke-width="0.7" stroke-linejoin="round" stroke-linecap="round"/>
<line x1="260.56" y1="13.3" x2="364.13" y2="13.3" stroke="#7fe8e8" stroke-width="0.8"/>
<line x1="289.85" y1="13.3" x2="336.73" y2="13.3" stroke="#a0a0e0" stroke-width="0.6"/>
<line x1="245.44" y1="13.3" x2="268.69" y2="13.3" stroke="#6a6af0" stroke-width="1.2"/>
<line x1="241.6" y1="23.5" x2="264.6" y2="38.1" stroke="#50508a" stroke-width="0.6"/>
<polygon points="266.4,39.3 262.6,38.6 264.4,35.9" fill="#50508a"/>
<line x1="244.6" y1="86.4" x2="267.8" y2="71.4" stroke="#50508a" stroke-width="0.6"/>
<polygon points="269.6,70.2 267.0,73.1 265.6,70.4" fill="#50508a"/>
<line x1="349.2" y1="16.6" x2="357.8" y2="16.6" stroke="#404040" stroke-width="0.8"/>
<text x="358.8" y="18.1" font-size="4.3" text-anchor="start" font-weight="normal" font-family="Liberation Sans" fill="#444">initial cycle</text>
<line x1="349.2" y1="21.53" x2="357.8" y2="21.53" stroke="#7a7af0" stroke-width="0.8"/>
<text x="358.8" y="23.03" font-size="4.3" text-anchor="start" font-weight="normal" font-family="Liberation Sans" fill="#444">1 st cycle</text>
<line x1="349.2" y1="26.46" x2="357.8" y2="26.46" stroke="#3fe0e0" stroke-width="0.8"/>
<text x="358.8" y="27.96" font-size="4.3" text-anchor="start" font-weight="normal" font-family="Liberation Sans" fill="#444">5th cycle</text>
<line x1="349.2" y1="31.39" x2="357.8" y2="31.39" stroke="#6a6ad0" stroke-width="0.8"/>
<text x="358.8" y="32.89" font-size="4.3" text-anchor="start" font-weight="normal" font-family="Liberation Sans" fill="#444">10th cycle</text>
<line x1="349.2" y1="36.32" x2="357.8" y2="36.32" stroke="#4a4ad8" stroke-width="0.8"/>
<text x="358.8" y="37.82" font-size="4.3" text-anchor="start" font-weight="normal" font-family="Liberation Sans" fill="#444">20th cycle</text>
<line x1="349.2" y1="41.25" x2="357.8" y2="41.25" stroke="#b0b0b0" stroke-width="0.8"/>
<text x="358.8" y="42.75" font-size="4.3" text-anchor="start" font-weight="normal" font-family="Liberation Sans" fill="#444">30th cycle</text>
<line x1="349.2" y1="46.18" x2="357.8" y2="46.18" stroke="#4fb0a8" stroke-width="0.8"/>
<text x="358.8" y="47.68" font-size="4.3" text-anchor="start" font-weight="normal" font-family="Liberation Sans" fill="#444">60th cycle</text>
<text x="4.8" y="122" font-size="12.8" text-anchor="start" font-weight="bold" font-family="Liberation Serif" fill="#000">(c)</text>
<rect x="40.4" y="128.3" width="141.4" height="97.7" fill="none" stroke="#777" stroke-width="0.7"/>
<line x1="40.4" y1="219.5" x2="42.2" y2="219.5" stroke="#777" stroke-width="0.6"/>
<text x="38.2" y="221.9" font-size="6.6" text-anchor="end" font-weight="bold" font-family="Liberation Sans" fill="#222" stroke="#222" stroke-width="0.28">0</text>
<line x1="40.4" y1="204.22" x2="42.2" y2="204.22" stroke="#777" stroke-width="0.6"/>
<text x="38.2" y="206.62" font-size="6.6" text-anchor="end" font-weight="bold" font-family="Liberation Sans" fill="#222" stroke="#222" stroke-width="0.28">500</text>
<line x1="40.4" y1="188.95" x2="42.2" y2="188.95" stroke="#777" stroke-width="0.6"/>
<text x="38.2" y="191.35" font-size="6.6" text-anchor="end" font-weight="bold" font-family="Liberation Sans" fill="#222" stroke="#222" stroke-width="0.28">1000</text>
<line x1="40.4" y1="173.68" x2="42.2" y2="173.68" stroke="#777" stroke-width="0.6"/>
<text x="38.2" y="176.08" font-size="6.6" text-anchor="end" font-weight="bold" font-family="Liberation Sans" fill="#222" stroke="#222" stroke-width="0.28">1500</text>
<line x1="40.4" y1="158.4" x2="42.2" y2="158.4" stroke="#777" stroke-width="0.6"/>
<text x="38.2" y="160.8" font-size="6.6" text-anchor="end" font-weight="bold" font-family="Liberation Sans" fill="#222" stroke="#222" stroke-width="0.28">2000</text>
<line x1="40.4" y1="143.12" x2="42.2" y2="143.12" stroke="#777" stroke-width="0.6"/>
<text x="38.2" y="145.53" font-size="6.6" text-anchor="end" font-weight="bold" font-family="Liberation Sans" fill="#222" stroke="#222" stroke-width="0.28">2500</text>
<line x1="40.4" y1="127.85" x2="42.2" y2="127.85" stroke="#777" stroke-width="0.6"/>
<text x="38.2" y="130.25" font-size="6.6" text-anchor="end" font-weight="bold" font-family="Liberation Sans" fill="#222" stroke="#222" stroke-width="0.28">3000</text>
<line x1="181.8" y1="226" x2="180" y2="226" stroke="#777" stroke-width="0.6"/>
<text x="184.8" y="228.4" font-size="6.6" text-anchor="start" font-weight="bold" font-family="Liberation Sans" fill="#222" stroke="#222" stroke-width="0.28">0</text>
<line x1="181.8" y1="207.4" x2="180" y2="207.4" stroke="#777" stroke-width="0.6"/>
<text x="184.8" y="209.8" font-size="6.6" text-anchor="start" font-weight="bold" font-family="Liberation Sans" fill="#222" stroke="#222" stroke-width="0.28">20</text>
<line x1="181.8" y1="188.8" x2="180" y2="188.8" stroke="#777" stroke-width="0.6"/>
<text x="184.8" y="191.2" font-size="6.6" text-anchor="start" font-weight="bold" font-family="Liberation Sans" fill="#222" stroke="#222" stroke-width="0.28">40</text>
<line x1="181.8" y1="170.2" x2="180" y2="170.2" stroke="#777" stroke-width="0.6"/>
<text x="184.8" y="172.6" font-size="6.6" text-anchor="start" font-weight="bold" font-family="Liberation Sans" fill="#222" stroke="#222" stroke-width="0.28">60</text>
<line x1="181.8" y1="151.6" x2="180" y2="151.6" stroke="#777" stroke-width="0.6"/>
<text x="184.8" y="154" font-size="6.6" text-anchor="start" font-weight="bold" font-family="Liberation Sans" fill="#222" stroke="#222" stroke-width="0.28">80</text>
<line x1="181.8" y1="133" x2="180" y2="133" stroke="#777" stroke-width="0.6"/>
<text x="184.8" y="135.4" font-size="6.6" text-anchor="start" font-weight="bold" font-family="Liberation Sans" fill="#222" stroke="#222" stroke-width="0.28">100</text>
<line x1="40.4" y1="226" x2="40.4" y2="224.2" stroke="#777" stroke-width="0.6"/>
<text x="40.4" y="233.6" font-size="6.6" text-anchor="middle" font-weight="bold" font-family="Liberation Sans" fill="#222" stroke="#222" stroke-width="0.28">0</text>
<line x1="54.6" y1="226" x2="54.6" y2="224.9" stroke="#777" stroke-width="0.5"/>
<line x1="68.8" y1="226" x2="68.8" y2="224.2" stroke="#777" stroke-width="0.6"/>
<text x="68.8" y="233.6" font-size="6.6" text-anchor="middle" font-weight="bold" font-family="Liberation Sans" fill="#222" stroke="#222" stroke-width="0.28">20</text>
<line x1="83" y1="226" x2="83" y2="224.9" stroke="#777" stroke-width="0.5"/>
<line x1="97.2" y1="226" x2="97.2" y2="224.2" stroke="#777" stroke-width="0.6"/>
<text x="97.2" y="233.6" font-size="6.6" text-anchor="middle" font-weight="bold" font-family="Liberation Sans" fill="#222" stroke="#222" stroke-width="0.28">40</text>
<line x1="111.4" y1="226" x2="111.4" y2="224.9" stroke="#777" stroke-width="0.5"/>
<line x1="125.6" y1="226" x2="125.6" y2="224.2" stroke="#777" stroke-width="0.6"/>
<text x="125.6" y="233.6" font-size="6.6" text-anchor="middle" font-weight="bold" font-family="Liberation Sans" fill="#222" stroke="#222" stroke-width="0.28">60</text>
<line x1="139.8" y1="226" x2="139.8" y2="224.9" stroke="#777" stroke-width="0.5"/>
<line x1="154" y1="226" x2="154" y2="224.2" stroke="#777" stroke-width="0.6"/>
<text x="154" y="233.6" font-size="6.6" text-anchor="middle" font-weight="bold" font-family="Liberation Sans" fill="#222" stroke="#222" stroke-width="0.28">80</text>
<line x1="168.2" y1="226" x2="168.2" y2="224.9" stroke="#777" stroke-width="0.5"/>
<line x1="182.4" y1="226" x2="182.4" y2="224.2" stroke="#777" stroke-width="0.6"/>
<text x="182.4" y="233.6" font-size="6.6" text-anchor="middle" font-weight="bold" font-family="Liberation Sans" fill="#222" stroke="#222" stroke-width="0.28">100</text>
<text x="110" y="244.7" font-size="6.7" text-anchor="middle" font-weight="bold" font-family="Liberation Sans" fill="#222" stroke="#222" stroke-width="0.28">Cycle Number</text>
<text transform="translate(20.2,177.3) rotate(-90)" font-size="6.5" text-anchor="middle" font-weight="bold" font-family="Liberation Sans" fill="#222" stroke="#222" stroke-width="0.28">Discharge Capacity (mAh/g<tspan font-size="4.6" dy="1.4">s</tspan><tspan dy="-1.4">)</tspan></text>
<text transform="translate(202.6,174.2) rotate(-90)" font-size="6.35" text-anchor="middle" font-weight="bold" font-family="Liberation Sans" fill="#222" stroke="#222" stroke-width="0.28">Coulombic Efficiency (%)</text>
<polyline points="80.07,175.58 76.3,177.75 72.53,175.58 72.53,171.22 76.3,169.05 80.07,171.22 80.07,175.58" fill="none" stroke="#8a8a8a" stroke-width="0.5"/>
<polyline points="87.6,175.58 83.83,177.75 80.07,175.58 80.07,171.22 83.83,169.05 87.6,171.22 87.6,175.58" fill="none" stroke="#8a8a8a" stroke-width="0.5"/>
<polyline points="95.14,175.58 91.37,177.75 87.6,175.58 87.6,171.22 91.37,169.05 95.14,171.22 95.14,175.58" fill="none" stroke="#8a8a8a" stroke-width="0.5"/>
<polyline points="102.67,175.58 98.9,177.75 95.14,175.58 95.14,171.22 98.9,169.05 102.67,171.22 102.67,175.58" fill="none" stroke="#8a8a8a" stroke-width="0.5"/>
<polyline points="110.2,175.58 106.44,177.75 102.67,175.58 102.67,171.22 106.44,169.05 110.2,171.22 110.2,175.58" fill="none" stroke="#8a8a8a" stroke-width="0.5"/>
<polyline points="117.74,175.58 113.97,177.75 110.2,175.58 110.2,171.22 113.97,169.05 117.74,171.22 117.74,175.58" fill="none" stroke="#8a8a8a" stroke-width="0.5"/>
<polyline points="121.51,169.05 117.74,171.22 113.97,169.05 113.97,164.7 117.74,162.53 121.51,164.7 121.51,169.05" fill="none" stroke="#8a8a8a" stroke-width="0.5"/>
<polyline points="125.27,162.53 121.51,164.7 117.74,162.53 117.74,158.17 121.51,156 125.27,158.17 125.27,162.53" fill="none" stroke="#8a8a8a" stroke-width="0.5"/>
<polyline points="129.04,156 125.27,158.17 121.51,156 121.51,151.65 125.27,149.47 129.04,151.65 129.04,156" fill="none" stroke="#8a8a8a" stroke-width="0.5"/>
<polyline points="132.81,149.47 129.04,151.65 125.27,149.47 125.27,145.12 129.04,142.95 132.81,145.12 132.81,149.47" fill="none" stroke="#8a8a8a" stroke-width="0.5"/>
<polyline points="140.34,149.47 136.58,151.65 132.81,149.47 132.81,145.12 136.58,142.95 140.34,145.12 140.34,149.47" fill="none" stroke="#8a8a8a" stroke-width="0.5"/>
<polyline points="147.88,149.47 144.11,151.65 140.34,149.47 140.34,145.12 144.11,142.95 147.88,145.12 147.88,149.47" fill="none" stroke="#8a8a8a" stroke-width="0.5"/>
<polyline points="144.11,142.95 140.34,145.12 136.58,142.95 136.58,138.6 140.34,136.42 144.11,138.6 144.11,142.95" fill="none" stroke="#8a8a8a" stroke-width="0.5"/>
<polyline points="78.47,150.08 74.7,152.25 70.93,150.08 70.93,145.72 74.7,143.55 78.47,145.72 78.47,150.08" fill="none" stroke="#8a8a8a" stroke-width="0.5"/>
<polyline points="70.93,145.72 67.53,143.72" fill="none" stroke="#8a8a8a" stroke-width="0.5"/>
<polyline points="78.47,145.72 81.87,143.72" fill="none" stroke="#8a8a8a" stroke-width="0.5"/>
<polyline points="70.93,150.08 67.53,152.08" fill="none" stroke="#8a8a8a" stroke-width="0.5"/>
<polyline points="78.47,150.08 81.87,152.08" fill="none" stroke="#8a8a8a" stroke-width="0.5"/>
<polyline points="74.7,152.25 74.7,155.45 72.1,157.45 72.9,160.55 76.3,164.65 76.3,169.05" fill="none" stroke="#8a8a8a" stroke-width="0.5"/>
<polyline points="72.53,171.22 69.13,169.22" fill="none" stroke="#8a8a8a" stroke-width="0.5"/>
<polyline points="72.53,175.58 69.13,177.58" fill="none" stroke="#8a8a8a" stroke-width="0.5"/>
<polyline points="91.37,169.05 91.37,164.45 98.9,164.45 98.9,169.05" fill="none" stroke="#8a8a8a" stroke-width="0.5"/>
<polyline points="117.74,175.58 121.34,176.78 121.34,171.98 124.94,169.58 124.94,165.18 128.54,162.78 128.54,158.58" fill="none" stroke="#8a8a8a" stroke-width="0.5"/>
<polyline points="129.04,142.95 129.04,138.55" fill="none" stroke="#8a8a8a" stroke-width="0.5"/>
<polyline points="147.88,145.12 151.28,143.12" fill="none" stroke="#8a8a8a" stroke-width="0.5"/>
<polyline points="147.88,149.47 151.28,151.47" fill="none" stroke="#8a8a8a" stroke-width="0.5"/>
<circle cx="74.7" cy="143.55" r="0.6" fill="#444"/>
<circle cx="76.3" cy="177.75" r="0.6" fill="#444"/>
<circle cx="83.83" cy="177.75" r="0.6" fill="#444"/>
<circle cx="91.37" cy="177.75" r="0.6" fill="#444"/>
<circle cx="98.9" cy="177.75" r="0.6" fill="#444"/>
<circle cx="106.44" cy="177.75" r="0.6" fill="#444"/>
<circle cx="136.58" cy="151.65" r="0.6" fill="#444"/>
<circle cx="144.11" cy="151.65" r="0.6" fill="#444"/>
<circle cx="113.97" cy="164.7" r="0.6" fill="#444"/>
<polyline points="63.2,137.3 61,137.3 61,181.6 63.4,181.6" fill="none" stroke="#999" stroke-width="0.6" stroke-linejoin="round" stroke-linecap="round"/>
<polyline points="150.6,136.2 152.6,136.2 152.6,181.2 154.6,181.2" fill="none" stroke="#999" stroke-width="0.6" stroke-linejoin="round" stroke-linecap="round"/>
<polyline points="45.09,133.37 46.08,133.09 47.5,133.09 48.92,133.09 50.34,133.09 51.76,133.09 53.18,133.09 54.6,133.09 56.02,133.09 57.44,133.09 58.86,133.09 60.28,133.09 61.7,133.09 63.12,133.09 64.54,133.09 65.96,133.09 67.38,133.09 68.8,133.09 70.22,133.09 71.64,133.09 73.06,133.09 74.48,133.09 75.9,133.09 77.32,133.09 78.74,133.09 80.16,133.09 81.58,133.09 83,133.09 84.42,133.09 85.84,133.09 87.26,133.09 88.68,133.09 90.1,133.09 91.52,133.09 92.94,133.09 94.36,133.09 95.78,133.09 97.2,133.09 98.62,133.09 100.04,133.09 101.46,133.09 102.88,133.09 104.3,133.09 105.72,133.09 107.14,133.09 108.56,133.09 109.98,133.09 111.4,133.09 112.82,133.09 114.24,133.09 115.66,133.09 117.08,133.09 118.5,133.09 119.92,133.09 121.34,133.09 122.76,133.09 124.18,133.09 125.6,133.09 127.02,133.09 128.44,133.09 129.86,133.09 131.28,133.09 132.7,133.09 134.12,133.09 135.54,133.09 136.96,133.09 138.38,133.09 139.8,133.09 141.22,133.09 142.64,133.09 144.06,133.09 145.48,133.09 146.9,133.09 148.32,133.09 149.74,133.09 151.16,133.09 152.58,133.09 154,133.09 155.42,133.09 156.84,133.09 158.26,133.09 159.68,133.09 161.1,133.09 162.52,133.09 163.94,133.09 165.36,133.09 166.78,133.09 168.2,133.09 169.62,132.35 171.04,133.65 172.46,132.63 173.88,133.09 175.3,133.09 176.72,133.09 178.14,133.09 179.56,133.09 180.98,133.09 182.4,133.09" fill="none" stroke="#e8553a" stroke-width="1.9" stroke-linejoin="round" stroke-linecap="round"/>
<circle cx="44.66" cy="140.68" r="1.05" fill="#e8553a"/>
<circle cx="41.82" cy="158.4" r="1.05" fill="#e8553a"/>
<circle cx="43.24" cy="161.15" r="1.05" fill="#e8553a"/>
<circle cx="43.24" cy="166.19" r="1.05" fill="#e8553a"/>
<polyline points="44.66,181.22 46.08,181.82 47.5,182.33 48.92,182.76 50.34,183.12 51.76,183.43 53.18,183.69 54.6,183.91 56.02,184.1 57.44,184.26 58.86,184.39 60.28,184.51 61.7,184.6 63.12,184.68 64.54,184.75 65.96,184.81 67.38,184.86 68.8,184.9 70.22,184.94 71.64,184.97 73.06,184.99 74.48,185.01 75.9,185.03 77.32,185.05 78.74,185.06 80.16,185.07 81.58,185.08 83,185.09 84.42,185.09 85.84,185.1 87.26,185.1 88.68,185.11 90.1,185.11 91.52,185.12 92.94,185.12 94.36,185.12 95.78,185.12 97.2,185.12 98.62,185.12 100.04,185.13 101.46,185.13 102.88,185.13 104.3,185.13 105.72,185.13 107.14,185.13 108.56,185.13 109.98,185.13 111.4,185.13 112.82,185.13 114.24,185.13 115.66,185.13 117.08,185.13 118.5,185.13 119.92,185.13 121.34,185.13 122.76,185.13 124.18,185.13 125.6,185.13 127.02,185.13 128.44,185.13 129.86,185.13 131.28,185.13 132.7,185.13 134.12,185.13 135.54,185.13 136.96,185.13 138.38,185.13 139.8,185.13 141.22,185.13 142.64,185.13 144.06,184.89 145.48,184.89 146.9,184.89 148.32,184.89 149.74,184.89 151.16,184.89 152.58,184.89 154,184.89 155.42,184.89 156.84,184.89 158.26,184.89 159.68,185.13 161.1,185.13 162.52,185.13 163.94,185.13 165.36,185.13 166.78,185.13 168.2,185.13 169.62,185.13 171.04,185.13 172.46,185.13 173.88,185.13 175.3,185.13 176.72,185.13 178.14,185.13 179.56,185.13 180.98,185.13" fill="none" stroke="#e8553a" stroke-width="2.2" stroke-linejoin="round" stroke-linecap="round"/>
<circle cx="41.82" cy="198.73" r="0.9" fill="#2e8f96"/>
<circle cx="43.24" cy="213.18" r="0.9" fill="#2e8f96"/>
<polyline points="44.66,216.14 46.08,217.09 47.5,217.77 48.92,218.26 50.34,218.61 51.76,218.87 53.18,219.05 54.6,219.17 56.02,219.27 57.44,219.33 58.86,219.38 60.28,219.41 61.7,219.44 63.12,219.46 64.54,219.47 65.96,219.48 67.38,219.48 68.8,219.49 70.22,219.49 71.64,219.49 73.06,219.5 74.48,219.5 75.9,219.5 77.32,219.5 78.74,219.5 80.16,219.5 81.58,219.5 83,219.5 84.42,219.5 85.84,219.5 87.26,219.5 88.68,219.5 90.1,219.5 91.52,219.5 92.94,219.5 94.36,219.5 95.78,219.5 97.2,219.5 98.62,219.5 100.04,219.5 101.46,219.5 102.88,219.5 104.3,219.5 105.72,219.5 107.14,219.5 108.56,219.5 109.98,219.5 111.4,219.5 112.82,219.5 114.24,219.5 115.66,219.5 117.08,219.5 118.5,219.5 119.92,219.5 121.34,219.5 122.76,219.5 124.18,219.5 125.6,219.5 127.02,219.5 128.44,219.5 129.86,219.5 131.28,219.5 132.7,219.5 134.12,219.5 135.54,219.5 136.96,219.5 138.38,219.5 139.8,219.5 141.22,219.5 142.64,219.5 144.06,219.5 145.48,219.5 146.9,219.5 148.32,219.5 149.74,219.5 151.16,219.5 152.58,219.5 154,219.5 155.42,219.5 156.84,219.5 158.26,219.5 159.68,219.5 161.1,219.5 162.52,219.5 163.94,219.5 165.36,219.5 166.78,219.5 168.2,219.5 169.62,219.5 171.04,219.5 172.46,219.5 173.88,219.5 175.3,219.5 176.72,219.5 178.14,219.5 179.56,219.5 180.98,219.5 182.4,219.5" fill="none" stroke="#2e8f96" stroke-width="1.9" stroke-linejoin="round" stroke-linecap="round"/>
<path d="M 62,190.2 Q 55,190.8 47.5,192.1" fill="none" stroke="#333" stroke-width="0.5"/>
<polygon points="45.0,192.1 48.0,190.9 48.0,193.3" fill="#333"/>
<path d="M 52,204 Q 61,206 62,213" fill="none" stroke="#333" stroke-width="0.5"/>
<polygon points="49.4,203.8 52.4,202.6 52.4,205.0" fill="#333"/>
<path d="M 158.8,139 Q 163.5,144 171.5,143.9" fill="none" stroke="#333" stroke-width="0.5"/>
<polygon points="174.0,143.9 171.0,142.7 171.0,145.1" fill="#333"/>
<text x="206" y="120.9" font-size="13" text-anchor="start" font-weight="bold" font-family="Liberation Serif" fill="#000">(d)</text>
<rect x="244.3" y="127.9" width="141.4" height="97.6" fill="none" stroke="#999" stroke-width="1.1"/>
<line x1="244.3" y1="225.5" x2="246.1" y2="225.5" stroke="#888" stroke-width="0.6"/>
<text x="242.3" y="227.8" font-size="6.3" text-anchor="end" font-weight="bold" font-family="Liberation Sans" fill="#222" stroke="#222" stroke-width="0.28">0.0</text>
<line x1="244.3" y1="201.7" x2="246.1" y2="201.7" stroke="#888" stroke-width="0.6"/>
<text x="242.3" y="204" font-size="6.3" text-anchor="end" font-weight="bold" font-family="Liberation Sans" fill="#222" stroke="#222" stroke-width="0.28">0.5</text>
<line x1="244.3" y1="177.9" x2="246.1" y2="177.9" stroke="#888" stroke-width="0.6"/>
<text x="242.3" y="180.2" font-size="6.3" text-anchor="end" font-weight="bold" font-family="Liberation Sans" fill="#222" stroke="#222" stroke-width="0.28">1.0</text>
<line x1="244.3" y1="154.1" x2="246.1" y2="154.1" stroke="#888" stroke-width="0.6"/>
<text x="242.3" y="156.4" font-size="6.3" text-anchor="end" font-weight="bold" font-family="Liberation Sans" fill="#222" stroke="#222" stroke-width="0.28">1.5</text>
<line x1="244.3" y1="130.3" x2="246.1" y2="130.3" stroke="#888" stroke-width="0.6"/>
<text x="242.3" y="132.6" font-size="6.3" text-anchor="end" font-weight="bold" font-family="Liberation Sans" fill="#222" stroke="#222" stroke-width="0.28">2.0</text>
<line x1="244.3" y1="225.5" x2="244.3" y2="223.7" stroke="#888" stroke-width="0.6"/>
<text x="244.3" y="233.1" font-size="6.3" text-anchor="middle" font-weight="bold" font-family="Liberation Sans" fill="#222" stroke="#222" stroke-width="0.28">0</text>
<line x1="253.14" y1="225.5" x2="253.14" y2="224.4" stroke="#888" stroke-width="0.5"/>
<line x1="261.99" y1="225.5" x2="261.99" y2="223.7" stroke="#888" stroke-width="0.6"/>
<text x="261.99" y="233.1" font-size="6.3" text-anchor="middle" font-weight="bold" font-family="Liberation Sans" fill="#222" stroke="#222" stroke-width="0.28">300</text>
<line x1="270.83" y1="225.5" x2="270.83" y2="224.4" stroke="#888" stroke-width="0.5"/>
<line x1="279.67" y1="225.5" x2="279.67" y2="223.7" stroke="#888" stroke-width="0.6"/>
<text x="279.67" y="233.1" font-size="6.3" text-anchor="middle" font-weight="bold" font-family="Liberation Sans" fill="#222" stroke="#222" stroke-width="0.28">600</text>
<line x1="288.51" y1="225.5" x2="288.51" y2="224.4" stroke="#888" stroke-width="0.5"/>
<line x1="297.36" y1="225.5" x2="297.36" y2="223.7" stroke="#888" stroke-width="0.6"/>
<text x="297.36" y="233.1" font-size="6.3" text-anchor="middle" font-weight="bold" font-family="Liberation Sans" fill="#222" stroke="#222" stroke-width="0.28">900</text>
<line x1="306.2" y1="225.5" x2="306.2" y2="224.4" stroke="#888" stroke-width="0.5"/>
<line x1="315.04" y1="225.5" x2="315.04" y2="223.7" stroke="#888" stroke-width="0.6"/>
<text x="315.04" y="233.1" font-size="6.3" text-anchor="middle" font-weight="bold" font-family="Liberation Sans" fill="#222" stroke="#222" stroke-width="0.28">1200</text>
<line x1="323.88" y1="225.5" x2="323.88" y2="224.4" stroke="#888" stroke-width="0.5"/>
<line x1="332.73" y1="225.5" x2="332.73" y2="223.7" stroke="#888" stroke-width="0.6"/>
<text x="332.73" y="233.1" font-size="6.3" text-anchor="middle" font-weight="bold" font-family="Liberation Sans" fill="#222" stroke="#222" stroke-width="0.28">1500</text>
<line x1="341.57" y1="225.5" x2="341.57" y2="224.4" stroke="#888" stroke-width="0.5"/>
<line x1="350.41" y1="225.5" x2="350.41" y2="223.7" stroke="#888" stroke-width="0.6"/>
<text x="350.41" y="233.1" font-size="6.3" text-anchor="middle" font-weight="bold" font-family="Liberation Sans" fill="#222" stroke="#222" stroke-width="0.28">1800</text>
<line x1="359.25" y1="225.5" x2="359.25" y2="224.4" stroke="#888" stroke-width="0.5"/>
<line x1="368.1" y1="225.5" x2="368.1" y2="223.7" stroke="#888" stroke-width="0.6"/>
<text x="368.1" y="233.1" font-size="6.3" text-anchor="middle" font-weight="bold" font-family="Liberation Sans" fill="#222" stroke="#222" stroke-width="0.28">2100</text>
<line x1="376.94" y1="225.5" x2="376.94" y2="224.4" stroke="#888" stroke-width="0.5"/>
<line x1="385.78" y1="225.5" x2="385.78" y2="223.7" stroke="#888" stroke-width="0.6"/>
<text x="385.78" y="233.1" font-size="6.3" text-anchor="middle" font-weight="bold" font-family="Liberation Sans" fill="#222" stroke="#222" stroke-width="0.28">2400</text>
<text x="315" y="245.8" font-size="6.75" text-anchor="middle" font-weight="bold" font-family="Liberation Sans" fill="#222" stroke="#222" stroke-width="0.28">Specific Capacity (mAh/g<tspan font-size="4.7" dy="1.5">s</tspan><tspan dy="-1.5">)</tspan></text>
<text transform="translate(225.3,176.9) rotate(-90)" font-size="6.9" text-anchor="middle" font-weight="bold" font-family="Liberation Sans" fill="#222" stroke="#222" stroke-width="0.28">Voltage (V vs. Mg/Mg<tspan font-size="4.6" dy="-2.4">2+</tspan><tspan dy="2.4">)</tspan></text>
<polyline points="244.3,212.65 244.75,211.26 245.37,209.3 246.1,207 246.89,204.57 247.69,202.26 248.43,200.27 249.1,198.62 249.74,197.13 250.38,195.75 251.06,194.42 251.79,193.09 252.61,191.7 253.58,190.21 254.68,188.64 255.84,187.06 256.98,185.57 258.03,184.23 258.92,183.14 259.52,182.44 259.86,182.11 260.11,181.95 260.44,181.73 261.01,181.24 261.99,180.28 263.44,178.74 265.26,176.75 267.33,174.51 269.51,172.17 271.7,169.91 273.78,167.9 275.75,166.17 277.74,164.57 279.72,163.05 281.71,161.56 283.7,160.02 285.68,158.38 287.74,156.55 289.88,154.54 292.03,152.49 294.08,150.54 295.97,148.81 297.59,147.44 298.92,146.49 300.01,145.88 300.93,145.5 301.73,145.23 302.48,144.96 303.25,144.58 303.91,144.2 304.4,143.95 304.84,143.69 305.35,143.31 306.06,142.7 307.08,141.72 308.61,140.18 310.58,138.13 312.74,135.83 314.86,133.58 316.67,131.64 317.93,130.3" fill="none" stroke="#7030a0" stroke-width="1.1" stroke-linejoin="round" stroke-linecap="round"/>
<polyline points="244.3,212.65 244.75,211.26 245.37,209.3 246.1,207 246.89,204.57 247.69,202.26 248.43,200.27 249.1,198.62 249.74,197.13 250.38,195.75 251.06,194.42 251.79,193.09 252.61,191.7 253.58,190.21 254.68,188.64 255.84,187.06 256.98,185.57 258.03,184.23 258.92,183.14 259.52,182.46 259.86,182.17 260.11,182.04 260.44,181.83 261.01,181.32 261.99,180.28 263.44,178.56 265.26,176.33 267.33,173.79 269.51,171.17 271.7,168.66 273.78,166.48 275.75,164.65 277.74,163 279.72,161.48 281.71,160.01 283.7,158.52 285.68,156.96 287.74,155.23 289.88,153.39 292.03,151.54 294.08,149.78 295.97,148.22 297.59,146.96 298.92,146.07 300.01,145.48 300.93,145.09 301.73,144.79 302.48,144.5 303.25,144.1 303.94,143.72 304.49,143.45 304.99,143.18 305.52,142.8 306.19,142.19 307.08,141.25 308.33,139.76 309.9,137.79 311.6,135.6 313.24,133.44 314.64,131.58 315.63,130.3" fill="none" stroke="#a444e8" stroke-width="1.1" stroke-linejoin="round" stroke-linecap="round"/>
<polyline points="244.3,212.65 244.75,211.26 245.37,209.3 246.1,207 246.89,204.57 247.69,202.26 248.43,200.27 249.1,198.62 249.74,197.13 250.38,195.75 251.06,194.42 251.79,193.09 252.61,191.7 253.58,190.21 254.68,188.64 255.84,187.06 256.98,185.57 258.03,184.23 258.92,183.14 259.52,182.48 259.86,182.24 260.11,182.15 260.44,181.97 261.01,181.43 261.99,180.28 263.44,178.33 265.26,175.77 267.33,172.84 269.51,169.83 271.7,166.98 273.78,164.57 275.75,162.62 277.74,160.91 279.72,159.37 281.71,157.93 283.7,156.51 285.68,155.05 287.74,153.51 289.88,151.93 292.03,150.38 294.08,148.92 295.97,147.6 297.59,146.48 298.91,145.64 299.99,145.04 300.89,144.58 301.69,144.17 302.45,143.73 303.25,143.15 304.05,142.48 304.78,141.79 305.48,141.07 306.18,140.28 306.9,139.39 307.67,138.39 308.57,137.14 309.57,135.64 310.6,134.05 311.57,132.52 312.39,131.22 312.98,130.3" fill="none" stroke="#e0288a" stroke-width="1.1" stroke-linejoin="round" stroke-linecap="round"/>
<polyline points="244.3,212.65 244.75,211.26 245.37,209.3 246.1,207 246.89,204.57 247.69,202.26 248.43,200.27 249.1,198.62 249.74,197.13 250.38,195.75 251.06,194.42 251.79,193.09 252.61,191.7 253.58,190.21 254.68,188.64 255.84,187.06 256.98,185.57 258.03,184.23 258.92,183.14 259.52,182.49 259.86,182.27 260.11,182.21 260.44,182.04 261.01,181.49 261.99,180.28 263.44,178.22 265.26,175.48 267.33,172.37 269.51,169.16 271.7,166.14 273.78,163.62 275.75,161.6 277.74,159.85 279.72,158.29 281.71,156.87 283.7,155.49 285.68,154.1 287.74,152.67 289.88,151.26 292.03,149.91 294.08,148.63 295.97,147.48 297.59,146.48 298.91,145.7 300,145.11 300.91,144.64 301.71,144.21 302.47,143.74 303.25,143.15 304.02,142.48 304.73,141.79 305.39,141.07 306.04,140.28 306.69,139.39 307.38,138.39 308.15,137.14 308.99,135.64 309.85,134.05 310.64,132.52 311.31,131.22 311.8,130.3" fill="none" stroke="#ffa6d6" stroke-width="1.1" stroke-linejoin="round" stroke-linecap="round"/>
<polyline points="244.3,212.65 244.75,211.26 245.37,209.3 246.1,207 246.89,204.57 247.69,202.26 248.43,200.27 249.1,198.62 249.74,197.13 250.38,195.75 251.06,194.42 251.79,193.09 252.61,191.7 253.58,190.21 254.68,188.64 255.84,187.06 256.98,185.57 258.03,184.23 258.92,183.14 259.52,182.49 259.86,182.29 260.11,182.24 260.44,182.08 261.01,181.52 261.99,180.28 263.44,178.16 265.26,175.34 267.33,172.13 269.51,168.82 271.7,165.72 273.78,163.14 275.75,161.09 277.74,159.32 279.72,157.76 281.71,156.34 283.7,154.98 285.68,153.62 287.74,152.25 289.88,150.93 292.03,149.67 294.08,148.49 295.97,147.43 297.59,146.48 298.92,145.72 300.01,145.13 300.93,144.64 301.73,144.19 302.48,143.72 303.25,143.15 304,142.54 304.67,141.95 305.29,141.34 305.89,140.65 306.48,139.84 307.08,138.87 307.74,137.59 308.43,136.01 309.12,134.32 309.75,132.68 310.29,131.28 310.68,130.3" fill="none" stroke="#f8a060" stroke-width="1.1" stroke-linejoin="round" stroke-linecap="round"/>
<polyline points="244.3,130.3 244.34,131.05 244.38,132.06 244.44,133.28 244.5,134.62 244.58,136.03 244.67,137.44 244.76,138.92 244.87,140.53 244.99,142.2 245.12,143.87 245.26,145.48 245.4,146.96 245.54,148.29 245.68,149.53 245.83,150.71 245.98,151.84 246.16,152.97 246.35,154.1 246.55,155.24 246.76,156.36 246.99,157.46 247.24,158.56 247.51,159.66 247.81,160.76 248.14,161.89 248.5,163.04 248.89,164.19 249.29,165.31 249.71,166.4 250.15,167.43 250.61,168.39 251.11,169.31 251.62,170.19 252.13,171.04 252.62,171.86 253.07,172.66 253.45,173.44 253.76,174.2 254.05,174.93 254.35,175.63 254.73,176.3 255.21,176.95 255.83,177.57 256.58,178.18 257.4,178.76 258.21,179.31 258.98,179.82 259.63,180.28 260.05,180.61 260.26,180.79 260.41,180.93 260.67,181.14 261.18,181.53 262.1,182.18 263.51,183.17 265.29,184.41 267.32,185.81 269.5,187.31 271.69,188.83 273.78,190.28 275.8,191.64 277.87,192.97 279.96,194.32 282.04,195.72 284.1,197.22 286.1,198.84 288.01,200.6 289.86,202.46 291.68,204.41 293.51,206.44 295.39,208.56 297.36,210.74 299.57,213.21 302.05,216 304.57,218.87 306.94,221.57 308.95,223.86 310.38,225.5" fill="none" stroke="#f8a060" stroke-width="1.1" stroke-linejoin="round" stroke-linecap="round"/>
<polyline points="244.3,130.3 244.33,131.05 244.37,132.06 244.42,133.28 244.48,134.62 244.55,136.03 244.63,137.44 244.72,138.92 244.82,140.53 244.93,142.2 245.04,143.87 245.17,145.48 245.29,146.96 245.42,148.29 245.54,149.53 245.68,150.71 245.82,151.84 245.98,152.97 246.15,154.1 246.33,155.24 246.53,156.36 246.73,157.46 246.95,158.56 247.2,159.66 247.47,160.76 247.77,161.89 248.1,163.04 248.44,164.19 248.81,165.31 249.19,166.4 249.58,167.43 249.99,168.39 250.41,169.31 250.85,170.19 251.3,171.04 251.76,171.86 252.22,172.66 252.68,173.44 253.14,174.2 253.6,174.93 254.09,175.63 254.62,176.3 255.21,176.95 255.88,177.57 256.65,178.18 257.45,178.76 258.24,179.31 258.99,179.82 259.63,180.28 260.05,180.61 260.26,180.79 260.41,180.93 260.67,181.14 261.18,181.53 262.1,182.18 263.51,183.17 265.29,184.41 267.32,185.81 269.5,187.31 271.69,188.83 273.78,190.28 275.8,191.65 277.87,193.01 279.96,194.38 282.04,195.79 284.1,197.27 286.1,198.84 287.99,200.48 289.8,202.14 291.57,203.87 293.38,205.7 295.29,207.66 297.36,209.79 299.78,212.32 302.56,215.26 305.43,218.33 308.14,221.25 310.45,223.74 312.09,225.5" fill="none" stroke="#ffa6d6" stroke-width="1.1" stroke-linejoin="round" stroke-linecap="round"/>
<polyline points="244.3,130.3 244.33,131.05 244.37,132.06 244.41,133.28 244.46,134.62 244.53,136.03 244.59,137.44 244.67,138.92 244.76,140.53 244.86,142.2 244.96,143.87 245.07,145.48 245.18,146.96 245.3,148.29 245.41,149.53 245.53,150.71 245.66,151.84 245.8,152.97 245.95,154.1 246.12,155.24 246.29,156.36 246.47,157.46 246.67,158.56 246.89,159.66 247.13,160.76 247.4,161.89 247.69,163.04 248,164.19 248.33,165.31 248.67,166.4 249.02,167.43 249.36,168.39 249.71,169.31 250.07,170.19 250.46,171.04 250.89,171.86 251.37,172.66 251.92,173.44 252.52,174.2 253.16,174.93 253.83,175.63 254.52,176.3 255.21,176.95 255.93,177.57 256.71,178.18 257.5,178.76 258.28,179.31 259,179.82 259.63,180.28 260.05,180.61 260.26,180.79 260.41,180.93 260.67,181.14 261.18,181.53 262.1,182.18 263.51,183.17 265.29,184.41 267.32,185.81 269.5,187.31 271.69,188.83 273.78,190.28 275.8,191.65 277.87,193.03 279.96,194.41 282.04,195.83 284.1,197.3 286.1,198.84 287.97,200.41 289.71,201.98 291.43,203.6 293.21,205.33 295.15,207.22 297.36,209.32 300.06,211.87 303.25,214.89 306.61,218.06 309.8,221.09 312.52,223.67 314.45,225.5" fill="none" stroke="#e0288a" stroke-width="1.1" stroke-linejoin="round" stroke-linecap="round"/>
<polyline points="244.3,130.3 244.33,131.05 244.36,132.06 244.4,133.28 244.44,134.62 244.5,136.03 244.56,137.44 244.63,138.92 244.71,140.53 244.79,142.2 244.88,143.87 244.98,145.48 245.08,146.96 245.18,148.29 245.28,149.53 245.38,150.71 245.5,151.84 245.62,152.97 245.75,154.1 245.9,155.24 246.05,156.36 246.21,157.46 246.38,158.56 246.58,159.66 246.79,160.76 247.03,161.89 247.28,163.04 247.56,164.19 247.84,165.31 248.14,166.4 248.45,167.43 248.74,168.39 249.01,169.31 249.3,170.19 249.63,171.04 250.02,171.86 250.53,172.66 251.16,173.44 251.9,174.2 252.72,174.93 253.57,175.63 254.41,176.3 255.21,176.95 255.98,177.57 256.77,178.18 257.55,178.76 258.31,179.31 259.01,179.82 259.63,180.28 260.05,180.61 260.26,180.79 260.41,180.93 260.67,181.14 261.18,181.53 262.1,182.18 263.51,183.17 265.29,184.41 267.32,185.81 269.5,187.31 271.69,188.83 273.78,190.28 275.8,191.66 277.87,193.04 279.96,194.44 282.04,195.86 284.1,197.33 286.1,198.84 287.95,200.35 289.65,201.82 291.32,203.34 293.08,204.96 295.05,206.77 297.36,208.84 300.28,211.42 303.78,214.52 307.49,217.79 311.05,220.93 314.08,223.61 316.22,225.5" fill="none" stroke="#a444e8" stroke-width="1.1" stroke-linejoin="round" stroke-linecap="round"/>
<polyline points="244.3,130.3 244.32,131.05 244.35,132.06 244.38,133.28 244.42,134.62 244.47,136.03 244.52,137.44 244.58,138.92 244.65,140.53 244.73,142.2 244.8,143.87 244.89,145.48 244.97,146.96 245.06,148.29 245.14,149.53 245.24,150.71 245.33,151.84 245.44,152.97 245.55,154.1 245.68,155.24 245.81,156.36 245.95,157.46 246.1,158.56 246.27,159.66 246.45,160.76 246.65,161.89 246.88,163.04 247.11,164.19 247.36,165.31 247.62,166.4 247.88,167.43 248.12,168.39 248.32,169.31 248.52,170.19 248.79,171.04 249.16,171.86 249.68,172.66 250.39,173.44 251.28,174.2 252.28,174.93 253.31,175.63 254.31,176.3 255.21,176.95 256.03,177.57 256.83,178.18 257.61,178.76 258.34,179.31 259.02,179.82 259.63,180.28 260.05,180.61 260.26,180.79 260.41,180.93 260.67,181.14 261.18,181.53 262.1,182.18 263.51,183.17 265.29,184.41 267.32,185.81 269.5,187.31 271.69,188.83 273.78,190.28 275.8,191.67 277.87,193.07 279.96,194.49 282.04,195.92 284.1,197.37 286.1,198.84 287.92,200.26 289.56,201.59 291.17,202.93 292.91,204.41 294.92,206.1 297.36,208.13 300.55,210.75 304.46,213.96 308.64,217.39 312.66,220.7 316.1,223.52 318.52,225.5" fill="none" stroke="#7030a0" stroke-width="1.1" stroke-linejoin="round" stroke-linecap="round"/>
<polyline points="244.3,130.3 244.31,131.88 244.33,134.09 244.35,136.7 244.37,139.47 244.4,142.17 244.42,144.58 244.44,146.76 244.45,148.9 244.47,150.98 244.49,152.95 244.51,154.8 244.54,156.48 244.56,157.97 244.59,159.3 244.62,160.5 244.65,161.59 244.7,162.62 244.77,163.62 244.85,164.55 244.93,165.38 245.03,166.15 245.15,166.88 245.29,167.61 245.48,168.38 245.69,169.19 245.9,170.02 246.15,170.85 246.44,171.66 246.8,172.43 247.25,173.14 247.73,173.78 248.21,174.37 248.77,174.92 249.44,175.45 250.29,175.96 251.37,176.47 252.74,176.98 254.35,177.48 256.13,177.96 258.03,178.43 259.96,178.89 261.87,179.33 263.77,179.76 265.74,180.17 267.74,180.58 269.76,180.97 271.78,181.34 273.78,181.71 275.75,182.04 277.71,182.34 279.68,182.63 281.64,182.92 283.6,183.25 285.56,183.61 287.52,184.01 289.46,184.42 291.39,184.86 293.35,185.34 295.33,185.87 297.36,186.47 299.46,187.16 301.64,187.95 303.85,188.79 306.04,189.64 308.17,190.47 310.21,191.23 312.13,191.92 314,192.59 315.8,193.22 317.55,193.84 319.26,194.44 320.94,195.04 322.56,195.61 324.14,196.16 325.67,196.7 327.17,197.24 328.66,197.79 330.13,198.37 331.62,198.98 333.1,199.62 334.57,200.27 336,200.92 337.36,201.56 338.62,202.18 339.77,202.75 340.82,203.3 341.8,203.84 342.74,204.38 343.67,204.93 344.63,205.51 345.61,206.11 346.58,206.72 347.54,207.35 348.49,207.99 349.45,208.65 350.41,209.32 351.35,209.99 352.25,210.67 353.15,211.37 354.09,212.08 355.09,212.83 356.19,213.6 357.49,214.48 359.01,215.47 360.59,216.49 362.08,217.44 363.36,218.26 364.26,218.84" fill="none" stroke="#3a6a6a" stroke-width="1.1" stroke-linejoin="round" stroke-linecap="round"/>
<line x1="329.2" y1="140.8" x2="342.9" y2="140.8" stroke="#3a6a6a" stroke-width="1.3"/>
<g transform="translate(345.0,143.25) scale(0.91,1)">
<text x="0" y="0" font-size="6.85" text-anchor="start" font-weight="normal" font-family="Liberation Sans" fill="#1a1a1a" stroke="#1a1a1a" stroke-width="0.14">Initial (0.1C)</text>
</g>
<line x1="329.2" y1="149.18" x2="342.9" y2="149.18" stroke="#7030a0" stroke-width="1.3"/>
<g transform="translate(345.0,151.63) scale(0.91,1)">
<text x="0" y="0" font-size="6.85" text-anchor="start" font-weight="normal" font-family="Liberation Sans" fill="#1a1a1a" stroke="#1a1a1a" stroke-width="0.14">2<tspan font-size="4.2" dy="-2.6">nd</tspan><tspan dy="2.6"> (1C)</tspan></text>
</g>
<line x1="329.2" y1="157.56" x2="342.9" y2="157.56" stroke="#a444e8" stroke-width="1.3"/>
<g transform="translate(345.0,160.01) scale(0.91,1)">
<text x="0" y="0" font-size="6.85" text-anchor="start" font-weight="normal" font-family="Liberation Sans" fill="#1a1a1a" stroke="#1a1a1a" stroke-width="0.14">10<tspan font-size="4.2" dy="-2.6">th</tspan><tspan dy="2.6"> (1C)</tspan></text>
</g>
<line x1="329.2" y1="165.94" x2="342.9" y2="165.94" stroke="#e0288a" stroke-width="1.3"/>
<g transform="translate(345.0,168.39) scale(0.91,1)">
<text x="0" y="0" font-size="6.85" text-anchor="start" font-weight="normal" font-family="Liberation Sans" fill="#1a1a1a" stroke="#1a1a1a" stroke-width="0.14">20<tspan font-size="4.2" dy="-2.6">th</tspan><tspan dy="2.6"> (1C)</tspan></text>
</g>
<line x1="329.2" y1="174.32" x2="342.9" y2="174.32" stroke="#ffa6d6" stroke-width="1.3"/>
<g transform="translate(345.0,176.77) scale(0.91,1)">
<text x="0" y="0" font-size="6.85" text-anchor="start" font-weight="normal" font-family="Liberation Sans" fill="#1a1a1a" stroke="#1a1a1a" stroke-width="0.14">50<tspan font-size="4.2" dy="-2.6">th</tspan><tspan dy="2.6"> (1C)</tspan></text>
</g>
<line x1="329.2" y1="182.7" x2="342.9" y2="182.7" stroke="#f8a060" stroke-width="1.3"/>
<g transform="translate(345.0,185.15) scale(0.91,1)">
<text x="0" y="0" font-size="6.85" text-anchor="start" font-weight="normal" font-family="Liberation Sans" fill="#1a1a1a" stroke="#1a1a1a" stroke-width="0.14">80<tspan font-size="4.2" dy="-2.6">th</tspan><tspan dy="2.6"> (1C)</tspan></text>
</g>
<text x="390.5" y="16.9" font-size="12.8" text-anchor="start" font-weight="bold" font-family="Liberation Serif" fill="#000">(e)</text>
<rect x="409.6" y="19.2" width="131.6" height="2.8" fill="#1c1c6e"/>
<rect x="409.6" y="19.2" width="2.7" height="13" fill="#111"/>
<rect x="538.6" y="19.2" width="2.7" height="12.5" fill="#111"/>
<rect x="538.6" y="19.2" width="2.7" height="3" fill="#1c1c6e"/>
<rect x="473.3" y="16.4" width="4.2" height="5.8" rx="0.8" fill="#909090"/>
<rect x="473.3" y="17.6" width="4.2" height="0.7" fill="#5a5a5a"/>
<rect x="473.3" y="19.6" width="4.2" height="0.7" fill="#5a5a5a"/>
<path d="M 470.9,12.6 A 6,6 0 1 1 479.9,12.6 Q 478.4,14.4 478.2,16.8 L 472.6,16.8 Q 472.4,14.4 470.9,12.6 Z" fill="url(#bulb)" stroke="#d89a18" stroke-width="0.4"/>
<ellipse cx="475.4" cy="10.6" rx="2.2" ry="1.1" fill="#fffbe8" opacity="0.9"/>
<rect x="405.4" y="31.4" width="48.8" height="74.3" fill="#8c9494"/>
<ellipse cx="410.1" cy="35.3" rx="3.9" ry="4.25" fill="url(#rb)"/>
<ellipse cx="417.96" cy="35.3" rx="3.9" ry="4.25" fill="url(#rb)"/>
<ellipse cx="425.82" cy="35.3" rx="3.9" ry="4.25" fill="url(#rb)"/>
<ellipse cx="433.68" cy="35.3" rx="3.9" ry="4.25" fill="url(#rb)"/>
<ellipse cx="441.54" cy="35.3" rx="3.9" ry="4.25" fill="url(#rb)"/>
<ellipse cx="449.4" cy="35.3" rx="3.9" ry="4.25" fill="url(#rb)"/>
<ellipse cx="410.1" cy="43.5" rx="3.9" ry="4.25" fill="url(#rb)"/>
<ellipse cx="417.96" cy="43.5" rx="3.9" ry="4.25" fill="url(#rb)"/>
<ellipse cx="425.82" cy="43.5" rx="3.9" ry="4.25" fill="url(#rb)"/>
<ellipse cx="433.68" cy="43.5" rx="3.9" ry="4.25" fill="url(#rb)"/>
<ellipse cx="441.54" cy="43.5" rx="3.9" ry="4.25" fill="url(#rb)"/>
<ellipse cx="449.4" cy="43.5" rx="3.9" ry="4.25" fill="url(#rb)"/>
<ellipse cx="410.1" cy="51.7" rx="3.9" ry="4.25" fill="url(#rb)"/>
<ellipse cx="417.96" cy="51.7" rx="3.9" ry="4.25" fill="url(#rb)"/>
<ellipse cx="425.82" cy="51.7" rx="3.9" ry="4.25" fill="url(#rb)"/>
<ellipse cx="433.68" cy="51.7" rx="3.9" ry="4.25" fill="url(#rb)"/>
<ellipse cx="441.54" cy="51.7" rx="3.9" ry="4.25" fill="url(#rb)"/>
<ellipse cx="449.4" cy="51.7" rx="3.9" ry="4.25" fill="url(#rb)"/>
<ellipse cx="410.1" cy="59.9" rx="3.9" ry="4.25" fill="url(#rb)"/>
<ellipse cx="417.96" cy="59.9" rx="3.9" ry="4.25" fill="url(#rb)"/>
<ellipse cx="425.82" cy="59.9" rx="3.9" ry="4.25" fill="url(#rb)"/>
<ellipse cx="433.68" cy="59.9" rx="3.9" ry="4.25" fill="url(#rb)"/>
<ellipse cx="441.54" cy="59.9" rx="3.9" ry="4.25" fill="url(#rb)"/>
<ellipse cx="449.4" cy="59.9" rx="3.9" ry="4.25" fill="url(#rb)"/>
<ellipse cx="410.1" cy="68.1" rx="3.9" ry="4.25" fill="url(#rb)"/>
<ellipse cx="417.96" cy="68.1" rx="3.9" ry="4.25" fill="url(#rb)"/>
<ellipse cx="425.82" cy="68.1" rx="3.9" ry="4.25" fill="url(#rb)"/>
<ellipse cx="433.68" cy="68.1" rx="3.9" ry="4.25" fill="url(#rb)"/>
<ellipse cx="441.54" cy="68.1" rx="3.9" ry="4.25" fill="url(#rb)"/>
<ellipse cx="449.4" cy="68.1" rx="3.9" ry="4.25" fill="url(#rb)"/>
<ellipse cx="410.1" cy="76.3" rx="3.9" ry="4.25" fill="url(#rb)"/>
<ellipse cx="417.96" cy="76.3" rx="3.9" ry="4.25" fill="url(#rb)"/>
<ellipse cx="425.82" cy="76.3" rx="3.9" ry="4.25" fill="url(#rb)"/>
<ellipse cx="433.68" cy="76.3" rx="3.9" ry="4.25" fill="url(#rb)"/>
<ellipse cx="441.54" cy="76.3" rx="3.9" ry="4.25" fill="url(#rb)"/>
<ellipse cx="449.4" cy="76.3" rx="3.9" ry="4.25" fill="url(#rb)"/>
<ellipse cx="410.1" cy="84.5" rx="3.9" ry="4.25" fill="url(#rb)"/>
<ellipse cx="417.96" cy="84.5" rx="3.9" ry="4.25" fill="url(#rb)"/>
<ellipse cx="425.82" cy="84.5" rx="3.9" ry="4.25" fill="url(#rb)"/>
<ellipse cx="433.68" cy="84.5" rx="3.9" ry="4.25" fill="url(#rb)"/>
<ellipse cx="441.54" cy="84.5" rx="3.9" ry="4.25" fill="url(#rb)"/>
<ellipse cx="449.4" cy="84.5" rx="3.9" ry="4.25" fill="url(#rb)"/>
<ellipse cx="410.1" cy="92.7" rx="3.9" ry="4.25" fill="url(#rb)"/>
<ellipse cx="417.96" cy="92.7" rx="3.9" ry="4.25" fill="url(#rb)"/>
<ellipse cx="425.82" cy="92.7" rx="3.9" ry="4.25" fill="url(#rb)"/>
<ellipse cx="433.68" cy="92.7" rx="3.9" ry="4.25" fill="url(#rb)"/>
<ellipse cx="441.54" cy="92.7" rx="3.9" ry="4.25" fill="url(#rb)"/>
<ellipse cx="449.4" cy="92.7" rx="3.9" ry="4.25" fill="url(#rb)"/>
<ellipse cx="410.1" cy="100.9" rx="3.9" ry="4.25" fill="url(#rb)"/>
<ellipse cx="417.96" cy="100.9" rx="3.9" ry="4.25" fill="url(#rb)"/>
<ellipse cx="425.82" cy="100.9" rx="3.9" ry="4.25" fill="url(#rb)"/>
<ellipse cx="433.68" cy="100.9" rx="3.9" ry="4.25" fill="url(#rb)"/>
<ellipse cx="441.54" cy="100.9" rx="3.9" ry="4.25" fill="url(#rb)"/>
<ellipse cx="449.4" cy="100.9" rx="3.9" ry="4.25" fill="url(#rb)"/>
<rect x="419.6" y="82.4" width="19.2" height="14.3" fill="#fff"/>
<text x="429.2" y="93.6" font-size="11.5" text-anchor="middle" font-weight="bold" font-family="Liberation Sans" fill="#000">Mg</text>
<rect x="454.2" y="31.3" width="25.7" height="74.4" fill="url(#sand)"/>
<rect x="479.9" y="31.3" width="14.1" height="74.4" fill="url(#hatch)"/>
<rect x="494.0" y="31.3" width="18.3" height="74.4" fill="#5ae6ec"/>
<circle cx="498.9" cy="35.3" r="3.85" fill="url(#ob)"/>
<circle cx="507.5" cy="35.3" r="3.85" fill="url(#ob)"/>
<circle cx="498.9" cy="43.44" r="3.85" fill="url(#ob)"/>
<circle cx="507.5" cy="43.44" r="3.85" fill="url(#ob)"/>
<circle cx="498.9" cy="51.58" r="3.85" fill="url(#ob)"/>
<circle cx="507.5" cy="51.58" r="3.85" fill="url(#ob)"/>
<circle cx="498.9" cy="59.72" r="3.85" fill="url(#ob)"/>
<circle cx="507.5" cy="59.72" r="3.85" fill="url(#ob)"/>
<circle cx="498.9" cy="67.86" r="3.85" fill="url(#ob)"/>
<circle cx="507.5" cy="67.86" r="3.85" fill="url(#ob)"/>
<circle cx="498.9" cy="76" r="3.85" fill="url(#ob)"/>
<circle cx="507.5" cy="76" r="3.85" fill="url(#ob)"/>
<circle cx="498.9" cy="84.14" r="3.85" fill="url(#ob)"/>
<circle cx="507.5" cy="84.14" r="3.85" fill="url(#ob)"/>
<circle cx="498.9" cy="92.28" r="3.85" fill="url(#ob)"/>
<circle cx="507.5" cy="92.28" r="3.85" fill="url(#ob)"/>
<circle cx="498.9" cy="100.42" r="3.85" fill="url(#ob)"/>
<circle cx="507.5" cy="100.42" r="3.85" fill="url(#ob)"/>
<rect x="512.3" y="31.1" width="32.4" height="74.6" fill="url(#hatch)"/>
<text x="503.6" y="31.2" font-size="11.5" text-anchor="middle" font-weight="bold" font-family="Liberation Sans" fill="#000">S</text>
<text transform="translate(464.7,69.2) rotate(-90)" font-size="10.1" text-anchor="middle" font-weight="bold" font-family="Liberation Sans" fill="#1e140a" stroke="#1e140a" stroke-width="0.3">Glass fiber</text>
<text transform="translate(473.6,70.5) rotate(-90)" font-size="10.3" text-anchor="middle" font-weight="bold" font-family="Liberation Sans" fill="#1e140a" stroke="#1e140a" stroke-width="0.3">separator</text>
<text transform="translate(490.2,68.2) rotate(-90)" font-size="10.3" text-anchor="middle" font-weight="bold" font-family="Liberation Sans" fill="#111" stroke="#111" stroke-width="0.3">CNF coating</text>
<text transform="translate(534.3,69.7) rotate(-90)" font-size="10.3" text-anchor="middle" font-weight="bold" font-family="Liberation Sans" fill="#111" stroke="#111" stroke-width="0.3">CNF matrix</text>
<text x="390.2" y="120.8" font-size="12.8" text-anchor="start" font-weight="bold" font-family="Liberation Serif" fill="#000">(f)</text>
<line x1="419" y1="218.7" x2="421.2" y2="218.7" stroke="#000" stroke-width="0.7"/>
<text x="416.7" y="221.45" font-size="7.9" text-anchor="end" font-weight="bold" font-family="Liberation Sans" fill="#222" stroke="#222" stroke-width="0.3">0.5</text>
<line x1="419" y1="210.42" x2="420.3" y2="210.42" stroke="#000" stroke-width="0.6"/>
<line x1="419" y1="202.15" x2="421.2" y2="202.15" stroke="#000" stroke-width="0.7"/>
<text x="416.7" y="204.9" font-size="7.9" text-anchor="end" font-weight="bold" font-family="Liberation Sans" fill="#222" stroke="#222" stroke-width="0.3">1.0</text>
<line x1="419" y1="193.88" x2="420.3" y2="193.88" stroke="#000" stroke-width="0.6"/>
<line x1="419" y1="185.6" x2="421.2" y2="185.6" stroke="#000" stroke-width="0.7"/>
<text x="416.7" y="188.35" font-size="7.9" text-anchor="end" font-weight="bold" font-family="Liberation Sans" fill="#222" stroke="#222" stroke-width="0.3">1.5</text>
<line x1="419" y1="177.32" x2="420.3" y2="177.32" stroke="#000" stroke-width="0.6"/>
<line x1="419" y1="169.05" x2="421.2" y2="169.05" stroke="#000" stroke-width="0.7"/>
<text x="416.7" y="171.8" font-size="7.9" text-anchor="end" font-weight="bold" font-family="Liberation Sans" fill="#222" stroke="#222" stroke-width="0.3">2.0</text>
<line x1="419" y1="160.77" x2="420.3" y2="160.77" stroke="#000" stroke-width="0.6"/>
<line x1="419" y1="152.5" x2="421.2" y2="152.5" stroke="#000" stroke-width="0.7"/>
<text x="416.7" y="155.25" font-size="7.9" text-anchor="end" font-weight="bold" font-family="Liberation Sans" fill="#222" stroke="#222" stroke-width="0.3">2.5</text>
<line x1="419" y1="144.22" x2="420.3" y2="144.22" stroke="#000" stroke-width="0.6"/>
<line x1="419" y1="135.95" x2="421.2" y2="135.95" stroke="#000" stroke-width="0.7"/>
<text x="416.7" y="138.7" font-size="7.9" text-anchor="end" font-weight="bold" font-family="Liberation Sans" fill="#222" stroke="#222" stroke-width="0.3">3.0</text>
<line x1="419" y1="226.1" x2="419" y2="223.9" stroke="#000" stroke-width="0.7"/>
<text x="419" y="235.5" font-size="7.9" text-anchor="middle" font-weight="bold" font-family="Liberation Sans" fill="#222" stroke="#222" stroke-width="0.3">0</text>
<line x1="439.05" y1="226.1" x2="439.05" y2="224.8" stroke="#000" stroke-width="0.6"/>
<line x1="459.1" y1="226.1" x2="459.1" y2="223.9" stroke="#000" stroke-width="0.7"/>
<text x="459.1" y="235.5" font-size="7.9" text-anchor="middle" font-weight="bold" font-family="Liberation Sans" fill="#222" stroke="#222" stroke-width="0.3">500</text>
<line x1="479.15" y1="226.1" x2="479.15" y2="224.8" stroke="#000" stroke-width="0.6"/>
<line x1="499.2" y1="226.1" x2="499.2" y2="223.9" stroke="#000" stroke-width="0.7"/>
<text x="499.2" y="235.5" font-size="7.9" text-anchor="middle" font-weight="bold" font-family="Liberation Sans" fill="#222" stroke="#222" stroke-width="0.3">1000</text>
<line x1="519.25" y1="226.1" x2="519.25" y2="224.8" stroke="#000" stroke-width="0.6"/>
<line x1="539.3" y1="226.1" x2="539.3" y2="223.9" stroke="#000" stroke-width="0.7"/>
<text x="537.2" y="235.5" font-size="7.9" text-anchor="middle" font-weight="bold" font-family="Liberation Sans" fill="#222" stroke="#222" stroke-width="0.3">1500</text>
<text x="479.5" y="242.8" font-size="7.9" text-anchor="middle" font-weight="bold" font-family="Liberation Sans" fill="#222" stroke="#222" stroke-width="0.3">Capacity, mAh g<tspan font-size="5" dy="-3">-1</tspan></text>
<text transform="translate(400.9,181) rotate(-90)" font-size="7.9" text-anchor="middle" font-weight="bold" font-family="Liberation Sans" fill="#222" stroke="#222" stroke-width="0.3">Voltage, V</text>
<text x="424.7" y="138.2" font-size="7.9" text-anchor="start" font-weight="bold" font-family="Liberation Sans" fill="#222" stroke="#222" stroke-width="0.3">(b)</text>
<polyline points="419,134.29 419.12,135.54 419.28,137.24 419.48,139.26 419.7,141.47 419.94,143.72 420.2,145.88 420.49,148.03 420.8,150.29 421.13,152.6 421.48,154.89 421.84,157.09 422.21,159.12 422.59,161.01 422.98,162.82 423.39,164.54 423.8,166.16 424.21,167.66 424.61,169.05 425.01,170.3 425.42,171.43 425.82,172.44 426.22,173.37 426.62,174.21 427.02,175.01 427.38,175.72 427.7,176.34 428.02,176.89 428.39,177.39 428.84,177.85 429.43,178.32 430.15,178.77 430.97,179.19 431.88,179.58 432.87,179.95 433.93,180.3 435.04,180.63 436.19,180.94 437.39,181.2 438.65,181.44 440,181.69 441.46,181.96 443.06,182.29 444.83,182.65 446.77,183.03 448.82,183.43 450.93,183.87 453.04,184.37 455.09,184.94 457.09,185.58 459.1,186.29 461.1,187.05 463.11,187.86 465.12,188.7 467.12,189.57 469.12,190.46 471.13,191.37 473.13,192.32 475.14,193.32 477.14,194.39 479.15,195.53 481.15,196.79 483.16,198.18 485.16,199.63 487.17,201.08 489.17,202.49 491.18,203.8 493.23,204.98 495.34,206.07 497.45,207.11 499.5,208.16 501.44,209.25 503.21,210.42 504.87,211.8 506.48,213.37 507.97,214.98 509.3,216.49 510.4,217.78 511.23,218.7" fill="none" stroke="#111" stroke-width="1.3" stroke-linejoin="round" stroke-linecap="round"/>
<polyline points="419,220.35 419.12,218.68 419.28,216.31 419.48,213.53 419.7,210.61 419.94,207.83 420.2,205.46 420.49,203.52 420.82,201.78 421.17,200.18 421.53,198.66 421.88,197.13 422.21,195.53 422.5,193.88 422.77,192.22 423.03,190.56 423.3,188.91 423.61,187.25 423.97,185.6 424.41,183.91 424.9,182.19 425.43,180.47 425.97,178.78 426.51,177.17 427.02,175.67 427.51,174.27 428,172.94 428.48,171.68 428.96,170.5 429.44,169.4 429.91,168.39 430.37,167.48 430.81,166.66 431.25,165.93 431.7,165.26 432.15,164.65 432.63,164.08 433.09,163.57 433.52,163.13 433.96,162.74 434.46,162.39 435.07,162.07 435.84,161.77 436.64,161.51 437.39,161.33 438.25,161.17 439.38,161 440.93,160.77 443.06,160.44 445.91,160.03 449.37,159.57 453.25,159.06 457.37,158.48 461.52,157.84 465.52,157.13 469.49,156.32 473.62,155.41 477.79,154.42 481.87,153.42 485.76,152.43 489.34,151.51 492.53,150.65 495.42,149.84 498.12,149.05 500.72,148.25 503.32,147.42 506.02,146.54 508.84,145.61 511.71,144.64 514.58,143.65 517.41,142.63 520.13,141.61 522.7,140.58 525.24,139.48 527.81,138.28 530.28,137.07 532.52,135.94 534.39,134.98 535.77,134.29" fill="none" stroke="#111" stroke-width="1.3" stroke-linejoin="round" stroke-linecap="round"/>
<polyline points="419,134.29 419.12,135.54 419.28,137.24 419.48,139.26 419.7,141.47 419.94,143.72 420.2,145.88 420.49,148.03 420.8,150.29 421.13,152.6 421.48,154.89 421.84,157.09 422.21,159.12 422.59,161.01 422.98,162.82 423.39,164.54 423.8,166.16 424.21,167.66 424.61,169.05 425.01,170.3 425.42,171.43 425.82,172.44 426.22,173.37 426.62,174.21 427.02,175.01 427.38,175.72 427.7,176.34 428.02,176.89 428.39,177.39 428.84,177.85 429.43,178.32 430.15,178.76 430.97,179.16 431.88,179.54 432.87,179.9 433.93,180.26 435.04,180.63 436.19,181 437.39,181.33 438.65,181.67 440,182.03 441.46,182.45 443.06,182.95 444.83,183.55 446.77,184.21 448.82,184.94 450.93,185.7 453.04,186.48 455.09,187.25 457.09,188.02 459.1,188.78 461.1,189.55 463.11,190.37 465.12,191.25 467.12,192.22 469.12,193.28 471.13,194.43 473.13,195.63 475.14,196.89 477.14,198.18 479.15,199.5 481.15,200.84 483.16,202.22 485.16,203.64 487.17,205.09 489.17,206.58 491.18,208.11 493.32,209.8 495.64,211.69 497.95,213.61 500.09,215.41 501.9,216.94 503.21,218.04" fill="none" stroke="#ee1c24" stroke-width="1.3" stroke-linejoin="round" stroke-linecap="round"/>
<polyline points="419,220.35 419.12,218.68 419.28,216.31 419.48,213.53 419.7,210.61 419.94,207.83 420.2,205.46 420.49,203.52 420.82,201.78 421.17,200.18 421.53,198.66 421.88,197.13 422.21,195.53 422.5,193.88 422.77,192.22 423.03,190.56 423.3,188.91 423.61,187.25 423.97,185.6 424.41,183.93 424.9,182.23 425.43,180.53 425.97,178.86 426.51,177.23 427.02,175.67 427.51,174.16 428,172.67 428.48,171.22 428.96,169.85 429.44,168.56 429.91,167.39 430.37,166.36 430.81,165.43 431.25,164.6 431.7,163.84 432.15,163.12 432.63,162.43 433.09,161.77 433.52,161.18 433.96,160.63 434.46,160.11 435.07,159.61 435.84,159.12 436.64,158.68 437.39,158.31 438.25,157.96 439.38,157.58 440.93,157.1 443.06,156.47 445.91,155.67 449.37,154.74 453.25,153.72 457.37,152.65 461.52,151.56 465.52,150.51 469.49,149.46 473.62,148.37 477.79,147.27 481.87,146.19 485.76,145.16 489.34,144.22 492.54,143.41 495.47,142.69 498.2,142.03 500.81,141.38 503.39,140.69 506.02,139.92 508.85,139 511.84,137.94 514.8,136.84 517.53,135.8 519.83,134.92 521.5,134.29" fill="none" stroke="#ee1c24" stroke-width="1.3" stroke-linejoin="round" stroke-linecap="round"/>
<polyline points="419,134.29 419.12,135.54 419.28,137.24 419.48,139.26 419.7,141.47 419.94,143.72 420.2,145.88 420.49,148.03 420.8,150.29 421.13,152.6 421.48,154.89 421.84,157.09 422.21,159.12 422.59,161.01 422.98,162.82 423.39,164.54 423.8,166.16 424.21,167.66 424.61,169.05 425.01,170.3 425.42,171.43 425.82,172.44 426.22,173.37 426.62,174.21 427.02,175.01 427.38,175.72 427.7,176.32 428.02,176.85 428.39,177.34 428.84,177.82 429.43,178.32 430.15,178.84 430.97,179.35 431.88,179.85 432.87,180.34 433.93,180.82 435.04,181.3 436.19,181.72 437.39,182.09 438.65,182.46 440,182.85 441.46,183.34 443.06,183.94 444.83,184.7 446.77,185.56 448.82,186.51 450.93,187.51 453.04,188.54 455.09,189.57 457.09,190.61 459.1,191.67 461.1,192.76 463.11,193.88 465.12,195.02 467.12,196.19 469.1,197.34 471.04,198.45 472.98,199.58 474.96,200.81 477.01,202.2 479.15,203.8 481.58,205.84 484.32,208.29 487.12,210.9 489.75,213.4 491.99,215.54 493.59,217.04" fill="none" stroke="#1a2cf0" stroke-width="1.3" stroke-linejoin="round" stroke-linecap="round"/>
<polyline points="419,220.35 419.12,218.68 419.28,216.31 419.48,213.53 419.7,210.61 419.94,207.83 420.2,205.46 420.49,203.52 420.82,201.78 421.17,200.18 421.53,198.66 421.88,197.13 422.21,195.53 422.5,193.88 422.77,192.24 423.03,190.61 423.3,188.96 423.61,187.29 423.97,185.6 424.41,183.85 424.9,182.04 425.43,180.22 425.97,178.42 426.51,176.67 427.02,175.01 427.51,173.42 428,171.87 428.48,170.37 428.96,168.95 429.44,167.62 429.91,166.4 430.37,165.3 430.81,164.31 431.25,163.4 431.7,162.58 432.15,161.82 432.63,161.11 433.09,160.48 433.52,159.94 433.96,159.47 434.46,159.03 435.07,158.6 435.84,158.13 436.64,157.66 437.39,157.24 438.25,156.82 439.38,156.36 440.93,155.82 443.06,155.15 445.91,154.34 449.37,153.43 453.25,152.44 457.37,151.38 461.52,150.29 465.52,149.19 469.48,148.06 473.57,146.87 477.71,145.65 481.78,144.41 485.69,143.16 489.34,141.91 492.87,140.57 496.4,139.11 499.77,137.65 502.8,136.28 505.34,135.13 507.22,134.29" fill="none" stroke="#1a2cf0" stroke-width="1.3" stroke-linejoin="round" stroke-linecap="round"/>
<rect x="419" y="128.4" width="120.3" height="97.7" fill="none" stroke="#000" stroke-width="1.3"/>
<line x1="488" y1="164.8" x2="506.4" y2="164.8" stroke="#111" stroke-width="1.4"/>
<text x="510.6" y="167.7" font-size="7.9" text-anchor="start" font-weight="bold" font-family="Liberation Sans" fill="#222" stroke="#222" stroke-width="0.3">C/50</text>
<line x1="488" y1="174.45" x2="506.4" y2="174.45" stroke="#ee1c24" stroke-width="1.4"/>
<text x="510.6" y="177.35" font-size="7.9" text-anchor="start" font-weight="bold" font-family="Liberation Sans" fill="#222" stroke="#222" stroke-width="0.3">C/20</text>
<line x1="488" y1="184.1" x2="506.4" y2="184.1" stroke="#1a2cf0" stroke-width="1.4"/>
<text x="510.6" y="187" font-size="7.9" text-anchor="start" font-weight="bold" font-family="Liberation Sans" fill="#222" stroke="#222" stroke-width="0.3">C/10</text>
</svg>
</body></html>
